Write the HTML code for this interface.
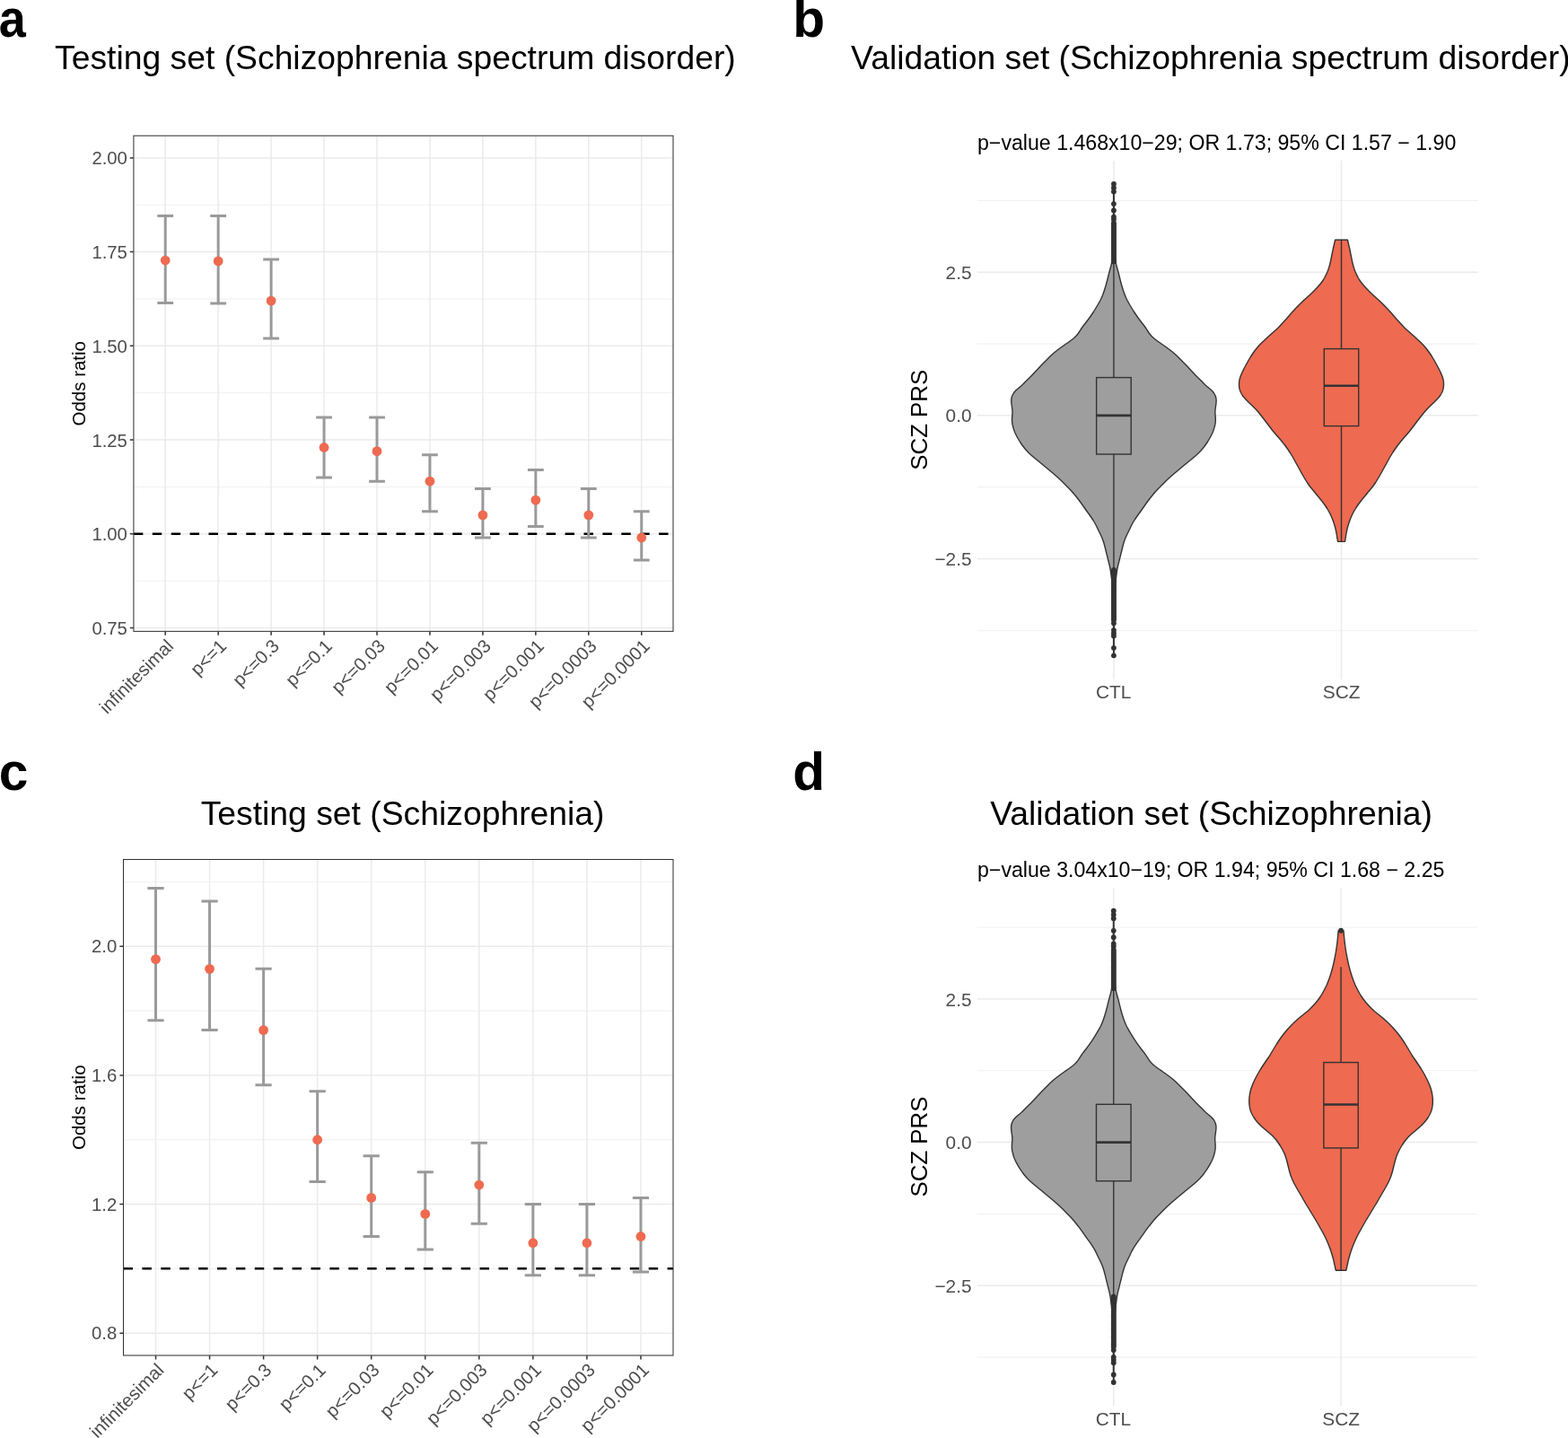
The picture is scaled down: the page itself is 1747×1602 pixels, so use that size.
<!DOCTYPE html>
<html lang="en"><head><meta charset="utf-8"><title>Polygenic risk score figure</title>
<style>html,body{margin:0;padding:0;background:#fff}body{width:1747px;height:1602px;overflow:hidden}svg{display:block;font-family:"Liberation Sans", Arial, Helvetica, sans-serif}text{white-space:pre}</style></head><body>
<svg xmlns="http://www.w3.org/2000/svg" width="1747" height="1602" viewBox="0 0 1747 1602">
<rect width="1747" height="1602" fill="#fff"/>
<g class="panel">
<path d="M148.9 647.16H750M148.9 542.44H750M148.9 437.71H750M148.9 332.99H750M148.9 228.26H750" stroke="#ebebeb" stroke-width="0.75" fill="none"/>
<path d="M148.9 699.52H750M148.9 594.8H750M148.9 490.07H750M148.9 385.35H750M148.9 280.62H750M148.9 175.9H750M184.2 151.2V703.35M243.15 151.2V703.35M302.1 151.2V703.35M361.05 151.2V703.35M420 151.2V703.35M478.95 151.2V703.35M537.9 151.2V703.35M596.85 151.2V703.35M655.8 151.2V703.35M714.75 151.2V703.35" stroke="#ebebeb" stroke-width="1.5" fill="none"/>
<line x1="148.9" y1="594.8" x2="750" y2="594.8" stroke="#000" stroke-width="2.5" stroke-dasharray="10.45 10.45"/>
<path d="M175.3 240.41H193.1M184.2 240.41V337.6M175.3 337.6H193.1M234.25 240.41H252.05M243.15 240.41V338.01M234.25 338.01H252.05M293.2 289H311M302.1 289V376.97M293.2 376.97H311M352.15 464.94H369.95M361.05 464.94V531.97M352.15 531.97H369.95M411.1 464.94H428.9M420 464.94V536.15M411.1 536.15H428.9M470.05 506.83H487.85M478.95 506.83V569.67M470.05 569.67H487.85M529 544.53H546.8M537.9 544.53V598.99M529 598.99H546.8M587.95 523.59H605.75M596.85 523.59V586.42M587.95 586.42H605.75M646.9 544.53H664.7M655.8 544.53V598.99M646.9 598.99H664.7M705.85 569.67H723.65M714.75 569.67V624.12M705.85 624.12H723.65" stroke="#9a9a9a" stroke-width="3" fill="none"/>
<circle cx="184.2" cy="290.05" r="5.4" fill="#ee6a50"/>
<circle cx="243.15" cy="290.89" r="5.4" fill="#ee6a50"/>
<circle cx="302.1" cy="335.08" r="5.4" fill="#ee6a50"/>
<circle cx="361.05" cy="498.45" r="5.4" fill="#ee6a50"/>
<circle cx="420" cy="502.64" r="5.4" fill="#ee6a50"/>
<circle cx="478.95" cy="536.15" r="5.4" fill="#ee6a50"/>
<circle cx="537.9" cy="573.85" r="5.4" fill="#ee6a50"/>
<circle cx="596.85" cy="557.1" r="5.4" fill="#ee6a50"/>
<circle cx="655.8" cy="573.85" r="5.4" fill="#ee6a50"/>
<circle cx="714.75" cy="598.99" r="5.4" fill="#ee6a50"/>
<rect x="148.9" y="151.2" width="601.1" height="552.15" fill="none" stroke="#333333" stroke-width="1.05"/>
<path d="M144.8 699.52H148.6M144.8 594.8H148.6M144.8 490.07H148.6M144.8 385.35H148.6M144.8 280.62H148.6M144.8 175.9H148.6M184.2 703.65V707.75M243.15 703.65V707.75M302.1 703.65V707.75M361.05 703.65V707.75M420 703.65V707.75M478.95 703.65V707.75M537.9 703.65V707.75M596.85 703.65V707.75M655.8 703.65V707.75M714.75 703.65V707.75" stroke="#333333" stroke-width="1.5" fill="none"/>
<text x="141.9" y="707.02" font-size="20.3" fill="#4d4d4d" text-anchor="end">0.75</text>
<text x="141.9" y="602.3" font-size="20.3" fill="#4d4d4d" text-anchor="end">1.00</text>
<text x="141.9" y="497.57" font-size="20.3" fill="#4d4d4d" text-anchor="end">1.25</text>
<text x="141.9" y="392.85" font-size="20.3" fill="#4d4d4d" text-anchor="end">1.50</text>
<text x="141.9" y="288.12" font-size="20.3" fill="#4d4d4d" text-anchor="end">1.75</text>
<text x="141.9" y="183.4" font-size="20.3" fill="#4d4d4d" text-anchor="end">2.00</text>
<text transform="translate(194.5 720.95) rotate(-45)" font-size="20.4" fill="#4d4d4d" text-anchor="end">infinitesimal</text>
<text transform="translate(253.45 720.95) rotate(-45)" font-size="20.4" fill="#4d4d4d" text-anchor="end">p&lt;=1</text>
<text transform="translate(312.4 720.95) rotate(-45)" font-size="20.4" fill="#4d4d4d" text-anchor="end">p&lt;=0.3</text>
<text transform="translate(371.35 720.95) rotate(-45)" font-size="20.4" fill="#4d4d4d" text-anchor="end">p&lt;=0.1</text>
<text transform="translate(430.3 720.95) rotate(-45)" font-size="20.4" fill="#4d4d4d" text-anchor="end">p&lt;=0.03</text>
<text transform="translate(489.25 720.95) rotate(-45)" font-size="20.4" fill="#4d4d4d" text-anchor="end">p&lt;=0.01</text>
<text transform="translate(548.2 720.95) rotate(-45)" font-size="20.4" fill="#4d4d4d" text-anchor="end">p&lt;=0.003</text>
<text transform="translate(607.15 720.95) rotate(-45)" font-size="20.4" fill="#4d4d4d" text-anchor="end">p&lt;=0.001</text>
<text transform="translate(666.1 720.95) rotate(-45)" font-size="20.4" fill="#4d4d4d" text-anchor="end">p&lt;=0.0003</text>
<text transform="translate(725.05 720.95) rotate(-45)" font-size="20.4" fill="#4d4d4d" text-anchor="end">p&lt;=0.0001</text>
<text transform="translate(94.8 427.27) rotate(-90)" font-size="20.5" fill="#000" text-anchor="middle">Odds ratio</text>
</g>
<g class="panel">
<path d="M137.5 1413.45H750M137.5 1269.75H750M137.5 1126.05H750M137.5 982.35H750" stroke="#ebebeb" stroke-width="0.75" fill="none"/>
<path d="M137.5 1485.3H750M137.5 1341.6H750M137.5 1197.9H750M137.5 1054.2H750M173.5 957.5V1510M233.55 957.5V1510M293.6 957.5V1510M353.65 957.5V1510M413.7 957.5V1510M473.75 957.5V1510M533.8 957.5V1510M593.85 957.5V1510M653.9 957.5V1510M713.95 957.5V1510" stroke="#ebebeb" stroke-width="1.5" fill="none"/>
<line x1="137.5" y1="1413.2" x2="750" y2="1413.2" stroke="#000" stroke-width="2.5" stroke-dasharray="10.45 10.45"/>
<path d="M164.4 989.53H182.6M173.5 989.53V1136.83M164.4 1136.83H182.6M224.45 1003.9H242.65M233.55 1003.9V1147.61M224.45 1147.61H242.65M284.5 1079.35H302.7M293.6 1079.35V1208.68M284.5 1208.68H302.7M344.55 1215.86H362.75M353.65 1215.86V1316.45M344.55 1316.45H362.75M404.6 1287.71H422.8M413.7 1287.71V1377.52M404.6 1377.52H422.8M464.65 1305.67H482.85M473.75 1305.67V1391.89M464.65 1391.89H482.85M524.7 1273.34H542.9M533.8 1273.34V1363.15M524.7 1363.15H542.9M584.75 1341.6H602.95M593.85 1341.6V1420.63M584.75 1420.63H602.95M644.8 1341.6H663M653.9 1341.6V1420.63M644.8 1420.63H663M704.85 1334.41H723.05M713.95 1334.41V1417.04M704.85 1417.04H723.05" stroke="#9a9a9a" stroke-width="3" fill="none"/>
<circle cx="173.5" cy="1068.57" r="5.4" fill="#ee6a50"/>
<circle cx="233.55" cy="1079.35" r="5.4" fill="#ee6a50"/>
<circle cx="293.6" cy="1147.61" r="5.4" fill="#ee6a50"/>
<circle cx="353.65" cy="1269.75" r="5.4" fill="#ee6a50"/>
<circle cx="413.7" cy="1334.41" r="5.4" fill="#ee6a50"/>
<circle cx="473.75" cy="1352.38" r="5.4" fill="#ee6a50"/>
<circle cx="533.8" cy="1320.05" r="5.4" fill="#ee6a50"/>
<circle cx="593.85" cy="1384.71" r="5.4" fill="#ee6a50"/>
<circle cx="653.9" cy="1384.71" r="5.4" fill="#ee6a50"/>
<circle cx="713.95" cy="1377.52" r="5.4" fill="#ee6a50"/>
<rect x="137.5" y="957.5" width="612.5" height="552.5" fill="none" stroke="#333333" stroke-width="1.05"/>
<path d="M133.4 1485.3H137.2M133.4 1341.6H137.2M133.4 1197.9H137.2M133.4 1054.2H137.2M173.5 1510.3V1514.4M233.55 1510.3V1514.4M293.6 1510.3V1514.4M353.65 1510.3V1514.4M413.7 1510.3V1514.4M473.75 1510.3V1514.4M533.8 1510.3V1514.4M593.85 1510.3V1514.4M653.9 1510.3V1514.4M713.95 1510.3V1514.4" stroke="#333333" stroke-width="1.5" fill="none"/>
<text x="130.2" y="1492.4" font-size="20.3" fill="#4d4d4d" text-anchor="end">0.8</text>
<text x="130.2" y="1348.7" font-size="20.3" fill="#4d4d4d" text-anchor="end">1.2</text>
<text x="130.2" y="1205" font-size="20.3" fill="#4d4d4d" text-anchor="end">1.6</text>
<text x="130.2" y="1061.3" font-size="20.3" fill="#4d4d4d" text-anchor="end">2.0</text>
<text transform="translate(183.8 1527.6) rotate(-45)" font-size="20.4" fill="#4d4d4d" text-anchor="end">infinitesimal</text>
<text transform="translate(243.85 1527.6) rotate(-45)" font-size="20.4" fill="#4d4d4d" text-anchor="end">p&lt;=1</text>
<text transform="translate(303.9 1527.6) rotate(-45)" font-size="20.4" fill="#4d4d4d" text-anchor="end">p&lt;=0.3</text>
<text transform="translate(363.95 1527.6) rotate(-45)" font-size="20.4" fill="#4d4d4d" text-anchor="end">p&lt;=0.1</text>
<text transform="translate(424 1527.6) rotate(-45)" font-size="20.4" fill="#4d4d4d" text-anchor="end">p&lt;=0.03</text>
<text transform="translate(484.05 1527.6) rotate(-45)" font-size="20.4" fill="#4d4d4d" text-anchor="end">p&lt;=0.01</text>
<text transform="translate(544.1 1527.6) rotate(-45)" font-size="20.4" fill="#4d4d4d" text-anchor="end">p&lt;=0.003</text>
<text transform="translate(604.15 1527.6) rotate(-45)" font-size="20.4" fill="#4d4d4d" text-anchor="end">p&lt;=0.001</text>
<text transform="translate(664.2 1527.6) rotate(-45)" font-size="20.4" fill="#4d4d4d" text-anchor="end">p&lt;=0.0003</text>
<text transform="translate(724.25 1527.6) rotate(-45)" font-size="20.4" fill="#4d4d4d" text-anchor="end">p&lt;=0.0001</text>
<text transform="translate(94.8 1233.75) rotate(-90)" font-size="20.5" fill="#000" text-anchor="middle">Odds ratio</text>
</g>
<g class="panel">
<path d="M1088.7 702.33H1646.8M1088.7 542.68H1646.8M1088.7 383.03H1646.8M1088.7 223.38H1646.8" stroke="#ebebeb" stroke-width="0.75" fill="none"/>
<path d="M1088.7 622.5H1646.8M1088.7 462.85H1646.8M1088.7 303.2H1646.8M1240.92 179V756.8M1494.5 179V756.8" stroke="#ebebeb" stroke-width="1.5" fill="none"/>
<path d="M1240.62 205L1240.62 206L1240.62 207L1240.62 208L1240.62 209L1240.62 210L1240.62 211L1240.62 212L1240.62 213L1240.62 214L1240.61 215L1240.61 216L1240.61 217L1240.61 218L1240.61 219L1240.61 220L1240.61 221L1240.61 222L1240.6 223L1240.6 224L1240.6 225L1240.6 226L1240.6 227L1240.6 228L1240.59 229L1240.59 230L1240.59 231L1240.59 232L1240.59 233L1240.58 234L1240.58 235L1240.58 236L1240.58 237L1240.57 238L1240.57 239L1240.57 240L1240.57 241L1240.56 242L1240.56 243L1240.56 244L1240.55 245L1240.55 246L1240.55 247L1240.54 248L1240.54 249L1240.53 250L1240.53 251L1240.52 252L1240.52 253L1240.51 254L1240.5 255L1240.5 256L1240.49 257L1240.48 258L1240.47 259L1240.47 260L1240.46 261L1240.45 262L1240.44 263L1240.43 264L1240.42 265L1240.41 266L1240.39 267L1240.38 268L1240.36 269L1240.34 270L1240.31 271L1240.29 272L1240.26 273L1240.23 274L1240.2 275L1240.17 276L1240.13 277L1240.1 278L1240.05 279L1240 280L1239.95 281L1239.88 282L1239.81 283L1239.72 284L1239.63 285L1239.53 286L1239.42 287L1239.3 288L1239.17 289L1239.03 290L1238.87 291L1238.71 292L1238.52 293L1238.32 294L1238.1 295L1237.87 296L1237.61 297L1237.34 298L1237.06 299L1236.78 300L1236.49 301L1236.21 302L1235.94 303L1235.68 304L1235.42 305L1235.17 306L1234.92 307L1234.68 308L1234.44 309L1234.19 310L1233.94 311L1233.69 312L1233.44 313L1233.18 314L1232.91 315L1232.64 316L1232.36 317L1232.07 318L1231.78 319L1231.49 320L1231.19 321L1230.88 322L1230.56 323L1230.23 324L1229.89 325L1229.54 326L1229.18 327L1228.8 328L1228.4 329L1227.99 330L1227.56 331L1227.12 332L1226.66 333L1226.17 334L1225.67 335L1225.14 336L1224.59 337L1224.02 338L1223.44 339L1222.86 340L1222.27 341L1221.67 342L1221.07 343L1220.46 344L1219.84 345L1219.22 346L1218.59 347L1217.94 348L1217.29 349L1216.63 350L1215.95 351L1215.26 352L1214.56 353L1213.85 354L1213.12 355L1212.38 356L1211.63 357L1210.87 358L1210.1 359L1209.31 360L1208.52 361L1207.73 362L1206.96 363L1206.23 364L1205.53 365L1204.86 366L1204.21 367L1203.58 368L1202.93 369L1202.26 370L1201.57 371L1200.83 372L1200.03 373L1199.16 374L1198.21 375L1197.16 376L1196.02 377L1194.79 378L1193.5 379L1192.16 380L1190.76 381L1189.33 382L1187.89 383L1186.44 384L1185.01 385L1183.6 386L1182.2 387L1180.83 388L1179.49 389L1178.17 390L1176.88 391L1175.63 392L1174.42 393L1173.25 394L1172.13 395L1171.04 396L1170 397L1168.99 398L1168 399L1167.02 400L1166.04 401L1165.05 402L1164.04 403L1163.02 404L1162.01 405L1161.02 406L1160.06 407L1159.12 408L1158.21 409L1157.29 410L1156.37 411L1155.44 412L1154.51 413L1153.57 414L1152.63 415L1151.69 416L1150.75 417L1149.8 418L1148.84 419L1147.84 420L1146.83 421L1145.79 422L1144.75 423L1143.72 424L1142.71 425L1141.73 426L1140.77 427L1139.79 428L1138.76 429L1137.67 430L1136.5 431L1135.28 432L1134.06 433L1132.89 434L1131.82 435L1130.87 436L1130.04 437L1129.32 438L1128.7 439L1128.18 440L1127.74 441L1127.38 442L1127.1 443L1126.9 444L1126.78 445L1126.74 446L1126.74 447L1126.79 448L1126.87 449L1126.97 450L1127.1 451L1127.24 452L1127.39 453L1127.54 454L1127.68 455L1127.8 456L1127.9 457L1127.97 458L1128 459L1128 460L1127.95 461L1127.86 462L1127.77 463L1127.67 464L1127.6 465L1127.56 466L1127.54 467L1127.54 468L1127.57 469L1127.62 470L1127.72 471L1127.87 472L1128.06 473L1128.29 474L1128.54 475L1128.81 476L1129.09 477L1129.4 478L1129.73 479L1130.08 480L1130.46 481L1130.87 482L1131.31 483L1131.78 484L1132.27 485L1132.78 486L1133.32 487L1133.88 488L1134.45 489L1135.05 490L1135.65 491L1136.28 492L1136.92 493L1137.58 494L1138.27 495L1138.98 496L1139.71 497L1140.47 498L1141.26 499L1142.08 500L1142.94 501L1143.82 502L1144.75 503L1145.71 504L1146.72 505L1147.77 506L1148.87 507L1150 508L1151.17 509L1152.36 510L1153.57 511L1154.79 512L1156.03 513L1157.26 514L1158.49 515L1159.71 516L1160.92 517L1162.12 518L1163.32 519L1164.52 520L1165.72 521L1166.92 522L1168.12 523L1169.32 524L1170.52 525L1171.71 526L1172.89 527L1174.07 528L1175.23 529L1176.39 530L1177.52 531L1178.64 532L1179.74 533L1180.82 534L1181.87 535L1182.91 536L1183.93 537L1184.93 538L1185.92 539L1186.91 540L1187.89 541L1188.88 542L1189.87 543L1190.86 544L1191.84 545L1192.81 546L1193.74 547L1194.64 548L1195.52 549L1196.38 550L1197.21 551L1198.03 552L1198.84 553L1199.63 554L1200.41 555L1201.18 556L1201.95 557L1202.71 558L1203.46 559L1204.19 560L1204.91 561L1205.62 562L1206.33 563L1207.02 564L1207.72 565L1208.42 566L1209.12 567L1209.82 568L1210.53 569L1211.25 570L1211.98 571L1212.71 572L1213.44 573L1214.17 574L1214.88 575L1215.58 576L1216.25 577L1216.92 578L1217.56 579L1218.19 580L1218.81 581L1219.4 582L1219.98 583L1220.53 584L1221.06 585L1221.56 586L1222.04 587L1222.51 588L1222.98 589L1223.45 590L1223.93 591L1224.43 592L1224.92 593L1225.41 594L1225.91 595L1226.39 596L1226.86 597L1227.32 598L1227.75 599L1228.16 600L1228.55 601L1228.92 602L1229.26 603L1229.58 604L1229.89 605L1230.17 606L1230.45 607L1230.71 608L1230.96 609L1231.21 610L1231.46 611L1231.7 612L1231.94 613L1232.19 614L1232.43 615L1232.69 616L1232.94 617L1233.2 618L1233.45 619L1233.71 620L1233.95 621L1234.2 622L1234.44 623L1234.69 624L1234.94 625L1235.19 626L1235.45 627L1235.7 628L1235.95 629L1236.19 630L1236.42 631L1236.63 632L1236.83 633L1237.02 634L1237.19 635L1237.34 636L1237.49 637L1237.62 638L1237.75 639L1237.88 640L1238 641L1238.13 642L1238.25 643L1238.38 644L1238.51 645L1238.64 646L1238.77 647L1238.89 648L1239 649L1239.11 650L1239.21 651L1239.31 652L1239.4 653L1239.5 654L1239.58 655L1239.66 656L1239.73 657L1239.8 658L1239.86 659L1239.91 660L1239.95 661L1239.99 662L1240.03 663L1240.07 664L1240.1 665L1240.13 666L1240.17 667L1240.19 668L1240.22 669L1240.25 670L1240.27 671L1240.3 672L1240.32 673L1240.34 674L1240.35 675L1240.37 676L1240.38 677L1240.4 678L1240.41 679L1240.42 680L1240.43 681L1240.43 682L1240.44 683L1240.45 684L1240.46 685L1240.46 686L1240.47 687L1240.48 688L1240.48 689L1240.49 690L1240.5 691L1240.5 692L1240.51 693L1240.51 694L1240.52 695L1240.52 696L1240.53 697L1240.54 698L1240.54 699L1240.55 700L1240.55 701L1240.55 702L1240.56 703L1240.56 704L1240.57 705L1240.57 706L1240.58 707L1240.58 708L1240.58 709L1240.59 710L1240.59 711L1240.59 712L1240.59 713L1240.6 714L1240.6 715L1240.6 716L1240.6 717L1240.61 718L1240.61 719L1240.61 720L1240.61 721L1240.61 722L1240.62 723L1240.62 724L1240.62 725L1240.62 726L1240.62 727L1240.62 728L1240.62 729L1240.62 730L1240.62 730.3L1241.22 730.3L1241.22 730L1241.22 729L1241.22 728L1241.22 727L1241.22 726L1241.22 725L1241.22 724L1241.22 723L1241.23 722L1241.23 721L1241.23 720L1241.23 719L1241.23 718L1241.24 717L1241.24 716L1241.24 715L1241.24 714L1241.25 713L1241.25 712L1241.25 711L1241.25 710L1241.26 709L1241.26 708L1241.26 707L1241.27 706L1241.27 705L1241.28 704L1241.28 703L1241.29 702L1241.29 701L1241.29 700L1241.3 699L1241.3 698L1241.31 697L1241.32 696L1241.32 695L1241.33 694L1241.33 693L1241.34 692L1241.34 691L1241.35 690L1241.36 689L1241.36 688L1241.37 687L1241.38 686L1241.38 685L1241.39 684L1241.4 683L1241.41 682L1241.41 681L1241.42 680L1241.43 679L1241.44 678L1241.46 677L1241.47 676L1241.49 675L1241.5 674L1241.52 673L1241.54 672L1241.57 671L1241.59 670L1241.62 669L1241.65 668L1241.67 667L1241.71 666L1241.74 665L1241.77 664L1241.81 663L1241.85 662L1241.89 661L1241.93 660L1241.98 659L1242.04 658L1242.11 657L1242.18 656L1242.26 655L1242.34 654L1242.44 653L1242.53 652L1242.63 651L1242.73 650L1242.84 649L1242.95 648L1243.07 647L1243.2 646L1243.33 645L1243.46 644L1243.59 643L1243.71 642L1243.84 641L1243.96 640L1244.09 639L1244.22 638L1244.35 637L1244.5 636L1244.65 635L1244.82 634L1245.01 633L1245.21 632L1245.42 631L1245.65 630L1245.89 629L1246.14 628L1246.39 627L1246.65 626L1246.9 625L1247.15 624L1247.4 623L1247.64 622L1247.89 621L1248.13 620L1248.39 619L1248.64 618L1248.9 617L1249.15 616L1249.41 615L1249.65 614L1249.9 613L1250.14 612L1250.38 611L1250.63 610L1250.88 609L1251.13 608L1251.39 607L1251.67 606L1251.95 605L1252.26 604L1252.58 603L1252.92 602L1253.29 601L1253.68 600L1254.09 599L1254.52 598L1254.98 597L1255.45 596L1255.93 595L1256.43 594L1256.92 593L1257.41 592L1257.91 591L1258.39 590L1258.86 589L1259.33 588L1259.8 587L1260.28 586L1260.78 585L1261.31 584L1261.86 583L1262.44 582L1263.03 581L1263.65 580L1264.28 579L1264.92 578L1265.59 577L1266.26 576L1266.96 575L1267.67 574L1268.4 573L1269.13 572L1269.86 571L1270.59 570L1271.31 569L1272.02 568L1272.72 567L1273.42 566L1274.12 565L1274.82 564L1275.51 563L1276.22 562L1276.93 561L1277.65 560L1278.38 559L1279.13 558L1279.89 557L1280.66 556L1281.43 555L1282.21 554L1283 553L1283.81 552L1284.63 551L1285.46 550L1286.32 549L1287.2 548L1288.1 547L1289.03 546L1290 545L1290.98 544L1291.97 543L1292.96 542L1293.95 541L1294.93 540L1295.92 539L1296.91 538L1297.91 537L1298.93 536L1299.97 535L1301.02 534L1302.1 533L1303.2 532L1304.32 531L1305.45 530L1306.61 529L1307.77 528L1308.95 527L1310.13 526L1311.32 525L1312.52 524L1313.72 523L1314.92 522L1316.12 521L1317.32 520L1318.52 519L1319.72 518L1320.92 517L1322.13 516L1323.35 515L1324.58 514L1325.81 513L1327.05 512L1328.27 511L1329.48 510L1330.67 509L1331.84 508L1332.97 507L1334.07 506L1335.12 505L1336.13 504L1337.09 503L1338.02 502L1338.9 501L1339.76 500L1340.58 499L1341.37 498L1342.13 497L1342.86 496L1343.57 495L1344.26 494L1344.92 493L1345.56 492L1346.19 491L1346.79 490L1347.39 489L1347.96 488L1348.52 487L1349.06 486L1349.57 485L1350.06 484L1350.53 483L1350.97 482L1351.38 481L1351.76 480L1352.11 479L1352.44 478L1352.75 477L1353.03 476L1353.3 475L1353.55 474L1353.78 473L1353.97 472L1354.12 471L1354.22 470L1354.27 469L1354.3 468L1354.3 467L1354.28 466L1354.24 465L1354.17 464L1354.07 463L1353.98 462L1353.89 461L1353.84 460L1353.84 459L1353.87 458L1353.94 457L1354.04 456L1354.16 455L1354.3 454L1354.45 453L1354.6 452L1354.74 451L1354.87 450L1354.97 449L1355.05 448L1355.1 447L1355.1 446L1355.06 445L1354.94 444L1354.74 443L1354.46 442L1354.1 441L1353.66 440L1353.14 439L1352.52 438L1351.8 437L1350.97 436L1350.02 435L1348.95 434L1347.78 433L1346.56 432L1345.34 431L1344.17 430L1343.08 429L1342.05 428L1341.07 427L1340.11 426L1339.13 425L1338.12 424L1337.09 423L1336.05 422L1335.01 421L1334 420L1333 419L1332.04 418L1331.09 417L1330.15 416L1329.21 415L1328.27 414L1327.33 413L1326.4 412L1325.47 411L1324.55 410L1323.63 409L1322.72 408L1321.78 407L1320.82 406L1319.83 405L1318.82 404L1317.8 403L1316.79 402L1315.8 401L1314.82 400L1313.84 399L1312.85 398L1311.84 397L1310.8 396L1309.71 395L1308.59 394L1307.42 393L1306.21 392L1304.96 391L1303.67 390L1302.35 389L1301.01 388L1299.64 387L1298.24 386L1296.83 385L1295.4 384L1293.95 383L1292.51 382L1291.08 381L1289.68 380L1288.34 379L1287.05 378L1285.82 377L1284.68 376L1283.63 375L1282.68 374L1281.81 373L1281.01 372L1280.27 371L1279.58 370L1278.91 369L1278.26 368L1277.63 367L1276.98 366L1276.31 365L1275.61 364L1274.88 363L1274.11 362L1273.32 361L1272.53 360L1271.74 359L1270.97 358L1270.21 357L1269.46 356L1268.72 355L1267.99 354L1267.28 353L1266.58 352L1265.89 351L1265.21 350L1264.55 349L1263.9 348L1263.25 347L1262.62 346L1262 345L1261.38 344L1260.77 343L1260.17 342L1259.57 341L1258.98 340L1258.4 339L1257.82 338L1257.25 337L1256.7 336L1256.17 335L1255.67 334L1255.18 333L1254.72 332L1254.28 331L1253.85 330L1253.44 329L1253.04 328L1252.66 327L1252.3 326L1251.95 325L1251.61 324L1251.28 323L1250.96 322L1250.65 321L1250.35 320L1250.06 319L1249.77 318L1249.48 317L1249.2 316L1248.93 315L1248.66 314L1248.4 313L1248.15 312L1247.9 311L1247.65 310L1247.4 309L1247.16 308L1246.92 307L1246.67 306L1246.42 305L1246.16 304L1245.9 303L1245.63 302L1245.35 301L1245.06 300L1244.78 299L1244.5 298L1244.23 297L1243.97 296L1243.74 295L1243.52 294L1243.32 293L1243.13 292L1242.97 291L1242.81 290L1242.67 289L1242.54 288L1242.42 287L1242.31 286L1242.21 285L1242.12 284L1242.03 283L1241.96 282L1241.89 281L1241.84 280L1241.79 279L1241.74 278L1241.71 277L1241.67 276L1241.64 275L1241.61 274L1241.58 273L1241.55 272L1241.53 271L1241.5 270L1241.48 269L1241.46 268L1241.45 267L1241.43 266L1241.42 265L1241.41 264L1241.4 263L1241.39 262L1241.38 261L1241.37 260L1241.37 259L1241.36 258L1241.35 257L1241.34 256L1241.34 255L1241.33 254L1241.32 253L1241.32 252L1241.31 251L1241.31 250L1241.3 249L1241.3 248L1241.29 247L1241.29 246L1241.29 245L1241.28 244L1241.28 243L1241.28 242L1241.27 241L1241.27 240L1241.27 239L1241.27 238L1241.26 237L1241.26 236L1241.26 235L1241.26 234L1241.25 233L1241.25 232L1241.25 231L1241.25 230L1241.25 229L1241.24 228L1241.24 227L1241.24 226L1241.24 225L1241.24 224L1241.24 223L1241.23 222L1241.23 221L1241.23 220L1241.23 219L1241.23 218L1241.23 217L1241.23 216L1241.23 215L1241.22 214L1241.22 213L1241.22 212L1241.22 211L1241.22 210L1241.22 209L1241.22 208L1241.22 207L1241.22 206L1241.22 205Z" fill="#9e9e9e" stroke="#333333" stroke-width="1.4" stroke-linejoin="round"/>
<path d="M1487.6 267.25L1487.35 268.25L1487.12 269.25L1486.89 270.25L1486.67 271.25L1486.43 272.25L1486.19 273.25L1485.96 274.25L1485.72 275.25L1485.49 276.25L1485.27 277.25L1485.05 278.25L1484.85 279.25L1484.65 280.25L1484.45 281.25L1484.25 282.25L1484.05 283.25L1483.85 284.25L1483.65 285.25L1483.45 286.25L1483.25 287.25L1483.06 288.25L1482.86 289.25L1482.65 290.25L1482.44 291.25L1482.22 292.25L1481.98 293.25L1481.73 294.25L1481.47 295.25L1481.19 296.25L1480.89 297.25L1480.58 298.25L1480.26 299.25L1479.91 300.25L1479.54 301.25L1479.15 302.25L1478.73 303.25L1478.29 304.25L1477.83 305.25L1477.35 306.25L1476.85 307.25L1476.34 308.25L1475.82 309.25L1475.26 310.25L1474.67 311.25L1474.03 312.25L1473.35 313.25L1472.63 314.25L1471.87 315.25L1471.07 316.25L1470.24 317.25L1469.38 318.25L1468.5 319.25L1467.6 320.25L1466.67 321.25L1465.72 322.25L1464.76 323.25L1463.77 324.25L1462.77 325.25L1461.74 326.25L1460.69 327.25L1459.62 328.25L1458.54 329.25L1457.44 330.25L1456.33 331.25L1455.21 332.25L1454.09 333.25L1452.98 334.25L1451.89 335.25L1450.83 336.25L1449.79 337.25L1448.77 338.25L1447.76 339.25L1446.77 340.25L1445.8 341.25L1444.83 342.25L1443.87 343.25L1442.93 344.25L1441.99 345.25L1441.07 346.25L1440.16 347.25L1439.27 348.25L1438.39 349.25L1437.52 350.25L1436.66 351.25L1435.82 352.25L1434.96 353.25L1434.1 354.25L1433.22 355.25L1432.31 356.25L1431.39 357.25L1430.46 358.25L1429.53 359.25L1428.61 360.25L1427.7 361.25L1426.8 362.25L1425.87 363.25L1424.92 364.25L1423.93 365.25L1422.89 366.25L1421.8 367.25L1420.69 368.25L1419.56 369.25L1418.41 370.25L1417.27 371.25L1416.13 372.25L1415 373.25L1413.88 374.25L1412.79 375.25L1411.72 376.25L1410.66 377.25L1409.6 378.25L1408.54 379.25L1407.47 380.25L1406.39 381.25L1405.34 382.25L1404.32 383.25L1403.36 384.25L1402.45 385.25L1401.58 386.25L1400.74 387.25L1399.92 388.25L1399.13 389.25L1398.37 390.25L1397.63 391.25L1396.91 392.25L1396.21 393.25L1395.52 394.25L1394.85 395.25L1394.19 396.25L1393.54 397.25L1392.91 398.25L1392.3 399.25L1391.71 400.25L1391.13 401.25L1390.58 402.25L1390.03 403.25L1389.49 404.25L1388.94 405.25L1388.39 406.25L1387.83 407.25L1387.28 408.25L1386.74 409.25L1386.21 410.25L1385.7 411.25L1385.21 412.25L1384.72 413.25L1384.26 414.25L1383.8 415.25L1383.35 416.25L1382.92 417.25L1382.51 418.25L1382.13 419.25L1381.79 420.25L1381.48 421.25L1381.21 422.25L1380.98 423.25L1380.8 424.25L1380.66 425.25L1380.56 426.25L1380.51 427.25L1380.49 428.25L1380.52 429.25L1380.58 430.25L1380.7 431.25L1380.85 432.25L1381.06 433.25L1381.32 434.25L1381.64 435.25L1382.01 436.25L1382.45 437.25L1382.94 438.25L1383.51 439.25L1384.14 440.25L1384.84 441.25L1385.62 442.25L1386.46 443.25L1387.35 444.25L1388.28 445.25L1389.25 446.25L1390.24 447.25L1391.25 448.25L1392.28 449.25L1393.33 450.25L1394.38 451.25L1395.43 452.25L1396.47 453.25L1397.49 454.25L1398.48 455.25L1399.43 456.25L1400.34 457.25L1401.23 458.25L1402.07 459.25L1402.9 460.25L1403.7 461.25L1404.49 462.25L1405.27 463.25L1406.05 464.25L1406.83 465.25L1407.61 466.25L1408.39 467.25L1409.17 468.25L1409.94 469.25L1410.71 470.25L1411.48 471.25L1412.23 472.25L1412.98 473.25L1413.72 474.25L1414.47 475.25L1415.21 476.25L1415.97 477.25L1416.74 478.25L1417.53 479.25L1418.34 480.25L1419.17 481.25L1420.02 482.25L1420.88 483.25L1421.75 484.25L1422.63 485.25L1423.51 486.25L1424.39 487.25L1425.26 488.25L1426.12 489.25L1426.97 490.25L1427.8 491.25L1428.61 492.25L1429.41 493.25L1430.2 494.25L1430.97 495.25L1431.73 496.25L1432.48 497.25L1433.22 498.25L1433.94 499.25L1434.64 500.25L1435.33 501.25L1436 502.25L1436.66 503.25L1437.3 504.25L1437.93 505.25L1438.55 506.25L1439.16 507.25L1439.76 508.25L1440.34 509.25L1440.91 510.25L1441.47 511.25L1442.02 512.25L1442.56 513.25L1443.11 514.25L1443.65 515.25L1444.21 516.25L1444.76 517.25L1445.32 518.25L1445.87 519.25L1446.42 520.25L1446.97 521.25L1447.51 522.25L1448.06 523.25L1448.6 524.25L1449.15 525.25L1449.7 526.25L1450.25 527.25L1450.82 528.25L1451.39 529.25L1451.96 530.25L1452.55 531.25L1453.14 532.25L1453.74 533.25L1454.35 534.25L1454.97 535.25L1455.59 536.25L1456.22 537.25L1456.87 538.25L1457.54 539.25L1458.24 540.25L1458.97 541.25L1459.73 542.25L1460.53 543.25L1461.35 544.25L1462.19 545.25L1463.02 546.25L1463.85 547.25L1464.67 548.25L1465.49 549.25L1466.31 550.25L1467.13 551.25L1467.95 552.25L1468.77 553.25L1469.59 554.25L1470.4 555.25L1471.21 556.25L1472.02 557.25L1472.81 558.25L1473.58 559.25L1474.34 560.25L1475.08 561.25L1475.8 562.25L1476.49 563.25L1477.17 564.25L1477.82 565.25L1478.46 566.25L1479.07 567.25L1479.67 568.25L1480.24 569.25L1480.8 570.25L1481.33 571.25L1481.85 572.25L1482.34 573.25L1482.82 574.25L1483.27 575.25L1483.7 576.25L1484.12 577.25L1484.51 578.25L1484.9 579.25L1485.27 580.25L1485.63 581.25L1485.98 582.25L1486.32 583.25L1486.64 584.25L1486.94 585.25L1487.23 586.25L1487.5 587.25L1487.76 588.25L1488 589.25L1488.23 590.25L1488.45 591.25L1488.66 592.25L1488.86 593.25L1489.04 594.25L1489.21 595.25L1489.37 596.25L1489.51 597.25L1489.66 598.25L1489.81 599.25L1489.96 600.25L1490.1 601.25L1490.27 602.25L1490.46 603.25L1490.5 603.35L1498.5 603.35L1498.54 603.25L1498.73 602.25L1498.9 601.25L1499.04 600.25L1499.19 599.25L1499.34 598.25L1499.49 597.25L1499.63 596.25L1499.79 595.25L1499.96 594.25L1500.14 593.25L1500.34 592.25L1500.55 591.25L1500.77 590.25L1501 589.25L1501.24 588.25L1501.5 587.25L1501.77 586.25L1502.06 585.25L1502.36 584.25L1502.68 583.25L1503.02 582.25L1503.37 581.25L1503.73 580.25L1504.1 579.25L1504.49 578.25L1504.88 577.25L1505.3 576.25L1505.73 575.25L1506.18 574.25L1506.66 573.25L1507.15 572.25L1507.67 571.25L1508.2 570.25L1508.76 569.25L1509.33 568.25L1509.93 567.25L1510.54 566.25L1511.18 565.25L1511.83 564.25L1512.51 563.25L1513.2 562.25L1513.92 561.25L1514.66 560.25L1515.42 559.25L1516.19 558.25L1516.98 557.25L1517.79 556.25L1518.6 555.25L1519.41 554.25L1520.23 553.25L1521.05 552.25L1521.87 551.25L1522.69 550.25L1523.51 549.25L1524.33 548.25L1525.15 547.25L1525.98 546.25L1526.81 545.25L1527.65 544.25L1528.47 543.25L1529.27 542.25L1530.03 541.25L1530.76 540.25L1531.46 539.25L1532.13 538.25L1532.78 537.25L1533.41 536.25L1534.03 535.25L1534.65 534.25L1535.26 533.25L1535.86 532.25L1536.45 531.25L1537.04 530.25L1537.61 529.25L1538.18 528.25L1538.75 527.25L1539.3 526.25L1539.85 525.25L1540.4 524.25L1540.94 523.25L1541.49 522.25L1542.03 521.25L1542.58 520.25L1543.13 519.25L1543.68 518.25L1544.24 517.25L1544.79 516.25L1545.35 515.25L1545.89 514.25L1546.44 513.25L1546.98 512.25L1547.53 511.25L1548.09 510.25L1548.66 509.25L1549.24 508.25L1549.84 507.25L1550.45 506.25L1551.07 505.25L1551.7 504.25L1552.34 503.25L1553 502.25L1553.67 501.25L1554.36 500.25L1555.06 499.25L1555.78 498.25L1556.52 497.25L1557.27 496.25L1558.03 495.25L1558.8 494.25L1559.59 493.25L1560.39 492.25L1561.2 491.25L1562.03 490.25L1562.88 489.25L1563.74 488.25L1564.61 487.25L1565.49 486.25L1566.37 485.25L1567.25 484.25L1568.12 483.25L1568.98 482.25L1569.83 481.25L1570.66 480.25L1571.47 479.25L1572.26 478.25L1573.03 477.25L1573.79 476.25L1574.53 475.25L1575.28 474.25L1576.02 473.25L1576.77 472.25L1577.52 471.25L1578.29 470.25L1579.06 469.25L1579.83 468.25L1580.61 467.25L1581.39 466.25L1582.17 465.25L1582.95 464.25L1583.73 463.25L1584.51 462.25L1585.3 461.25L1586.1 460.25L1586.93 459.25L1587.77 458.25L1588.66 457.25L1589.57 456.25L1590.52 455.25L1591.51 454.25L1592.53 453.25L1593.57 452.25L1594.62 451.25L1595.67 450.25L1596.72 449.25L1597.75 448.25L1598.76 447.25L1599.75 446.25L1600.72 445.25L1601.65 444.25L1602.54 443.25L1603.38 442.25L1604.16 441.25L1604.86 440.25L1605.49 439.25L1606.06 438.25L1606.55 437.25L1606.99 436.25L1607.36 435.25L1607.68 434.25L1607.94 433.25L1608.15 432.25L1608.3 431.25L1608.42 430.25L1608.48 429.25L1608.51 428.25L1608.49 427.25L1608.44 426.25L1608.34 425.25L1608.2 424.25L1608.02 423.25L1607.79 422.25L1607.52 421.25L1607.21 420.25L1606.87 419.25L1606.49 418.25L1606.08 417.25L1605.65 416.25L1605.2 415.25L1604.74 414.25L1604.28 413.25L1603.79 412.25L1603.3 411.25L1602.79 410.25L1602.26 409.25L1601.72 408.25L1601.17 407.25L1600.61 406.25L1600.06 405.25L1599.51 404.25L1598.97 403.25L1598.42 402.25L1597.87 401.25L1597.29 400.25L1596.7 399.25L1596.09 398.25L1595.46 397.25L1594.81 396.25L1594.15 395.25L1593.48 394.25L1592.79 393.25L1592.09 392.25L1591.37 391.25L1590.63 390.25L1589.87 389.25L1589.08 388.25L1588.26 387.25L1587.42 386.25L1586.55 385.25L1585.64 384.25L1584.68 383.25L1583.66 382.25L1582.61 381.25L1581.53 380.25L1580.46 379.25L1579.4 378.25L1578.34 377.25L1577.28 376.25L1576.21 375.25L1575.12 374.25L1574 373.25L1572.87 372.25L1571.73 371.25L1570.59 370.25L1569.44 369.25L1568.31 368.25L1567.2 367.25L1566.11 366.25L1565.07 365.25L1564.08 364.25L1563.13 363.25L1562.2 362.25L1561.3 361.25L1560.39 360.25L1559.47 359.25L1558.54 358.25L1557.61 357.25L1556.69 356.25L1555.78 355.25L1554.9 354.25L1554.04 353.25L1553.18 352.25L1552.34 351.25L1551.48 350.25L1550.61 349.25L1549.73 348.25L1548.84 347.25L1547.93 346.25L1547.01 345.25L1546.07 344.25L1545.13 343.25L1544.17 342.25L1543.2 341.25L1542.23 340.25L1541.24 339.25L1540.23 338.25L1539.21 337.25L1538.17 336.25L1537.11 335.25L1536.02 334.25L1534.91 333.25L1533.79 332.25L1532.67 331.25L1531.56 330.25L1530.46 329.25L1529.38 328.25L1528.31 327.25L1527.26 326.25L1526.23 325.25L1525.23 324.25L1524.24 323.25L1523.28 322.25L1522.33 321.25L1521.4 320.25L1520.5 319.25L1519.62 318.25L1518.76 317.25L1517.93 316.25L1517.13 315.25L1516.37 314.25L1515.65 313.25L1514.97 312.25L1514.33 311.25L1513.74 310.25L1513.18 309.25L1512.66 308.25L1512.15 307.25L1511.65 306.25L1511.17 305.25L1510.71 304.25L1510.27 303.25L1509.85 302.25L1509.46 301.25L1509.09 300.25L1508.74 299.25L1508.42 298.25L1508.11 297.25L1507.81 296.25L1507.53 295.25L1507.27 294.25L1507.02 293.25L1506.78 292.25L1506.56 291.25L1506.35 290.25L1506.14 289.25L1505.94 288.25L1505.75 287.25L1505.55 286.25L1505.35 285.25L1505.15 284.25L1504.95 283.25L1504.75 282.25L1504.55 281.25L1504.35 280.25L1504.15 279.25L1503.95 278.25L1503.73 277.25L1503.51 276.25L1503.28 275.25L1503.04 274.25L1502.81 273.25L1502.57 272.25L1502.33 271.25L1502.11 270.25L1501.88 269.25L1501.65 268.25L1501.4 267.25Z" fill="#ee6a50" stroke="#333333" stroke-width="1.4" stroke-linejoin="round"/>
<g fill="#333333"><circle cx="1240.92" cy="205" r="2.9"/><circle cx="1240.92" cy="209.2" r="2.9"/><circle cx="1240.92" cy="213.5" r="2.9"/><circle cx="1240.92" cy="227.1" r="2.9"/><circle cx="1240.92" cy="234.5" r="2.9"/><circle cx="1240.92" cy="241.7" r="2.9"/><circle cx="1240.92" cy="244.6" r="2.9"/><circle cx="1240.92" cy="248.3" r="2.9"/><circle cx="1240.92" cy="249.9" r="2.9"/><circle cx="1240.92" cy="251.5" r="2.9"/><circle cx="1240.92" cy="253.1" r="2.9"/><circle cx="1240.92" cy="254.7" r="2.9"/><circle cx="1240.92" cy="256.3" r="2.9"/><circle cx="1240.92" cy="257.9" r="2.9"/><circle cx="1240.92" cy="259.5" r="2.9"/><circle cx="1240.92" cy="261.1" r="2.9"/><circle cx="1240.92" cy="262.7" r="2.9"/><circle cx="1240.92" cy="264.3" r="2.9"/><circle cx="1240.92" cy="265.9" r="2.9"/><circle cx="1240.92" cy="267.5" r="2.9"/><circle cx="1240.92" cy="269.1" r="2.9"/><circle cx="1240.92" cy="270.7" r="2.9"/><circle cx="1240.92" cy="272.3" r="2.9"/><circle cx="1240.92" cy="273.9" r="2.9"/><circle cx="1240.92" cy="275.5" r="2.9"/><circle cx="1240.92" cy="277.1" r="2.9"/><circle cx="1240.92" cy="278.7" r="2.9"/><circle cx="1240.92" cy="280.3" r="2.9"/><circle cx="1240.92" cy="281.9" r="2.9"/><circle cx="1240.92" cy="283.5" r="2.9"/><circle cx="1240.92" cy="285.1" r="2.9"/><circle cx="1240.92" cy="286.7" r="2.9"/><circle cx="1240.92" cy="288.3" r="2.9"/><circle cx="1240.92" cy="289.9" r="2.9"/><circle cx="1240.92" cy="291.5" r="2.9"/><circle cx="1240.92" cy="634.8" r="2.9"/><circle cx="1240.92" cy="636.4" r="2.9"/><circle cx="1240.92" cy="638" r="2.9"/><circle cx="1240.92" cy="639.6" r="2.9"/><circle cx="1240.92" cy="641.2" r="2.9"/><circle cx="1240.92" cy="642.8" r="2.9"/><circle cx="1240.92" cy="644.4" r="2.9"/><circle cx="1240.92" cy="646" r="2.9"/><circle cx="1240.92" cy="647.6" r="2.9"/><circle cx="1240.92" cy="649.2" r="2.9"/><circle cx="1240.92" cy="650.8" r="2.9"/><circle cx="1240.92" cy="652.4" r="2.9"/><circle cx="1240.92" cy="654" r="2.9"/><circle cx="1240.92" cy="655.6" r="2.9"/><circle cx="1240.92" cy="657.2" r="2.9"/><circle cx="1240.92" cy="658.8" r="2.9"/><circle cx="1240.92" cy="660.4" r="2.9"/><circle cx="1240.92" cy="662" r="2.9"/><circle cx="1240.92" cy="663.6" r="2.9"/><circle cx="1240.92" cy="665.2" r="2.9"/><circle cx="1240.92" cy="666.8" r="2.9"/><circle cx="1240.92" cy="668.4" r="2.9"/><circle cx="1240.92" cy="670" r="2.9"/><circle cx="1240.92" cy="671.6" r="2.9"/><circle cx="1240.92" cy="673.2" r="2.9"/><circle cx="1240.92" cy="674.8" r="2.9"/><circle cx="1240.92" cy="676.4" r="2.9"/><circle cx="1240.92" cy="678" r="2.9"/><circle cx="1240.92" cy="679.6" r="2.9"/><circle cx="1240.92" cy="681.2" r="2.9"/><circle cx="1240.92" cy="682.8" r="2.9"/><circle cx="1240.92" cy="684.4" r="2.9"/><circle cx="1240.92" cy="686" r="2.9"/><circle cx="1240.92" cy="687.6" r="2.9"/><circle cx="1240.92" cy="689.2" r="2.9"/><circle cx="1240.92" cy="690.8" r="2.9"/><circle cx="1240.92" cy="694.3" r="2.9"/><circle cx="1240.92" cy="702.1" r="2.9"/><circle cx="1240.92" cy="705.3" r="2.9"/><circle cx="1240.92" cy="708.5" r="2.9"/><circle cx="1240.92" cy="721.8" r="2.9"/><circle cx="1240.92" cy="730.3" r="2.9"/></g>
<path d="M1240.92 290.5V420.6M1240.92 506V635" stroke="#333333" stroke-width="1.4" fill="none"/>
<rect x="1221.62" y="420.6" width="38.6" height="85.4" fill="#9e9e9e" stroke="#333333" stroke-width="1.4"/>
<line x1="1221.62" y1="462.9" x2="1260.22" y2="462.9" stroke="#333333" stroke-width="2.6"/>
<path d="M1494.5 267.3V388.6M1494.5 474.6V603.3" stroke="#333333" stroke-width="1.4" fill="none"/>
<rect x="1475.3" y="388.6" width="38.4" height="86" fill="#ee6a50" stroke="#333333" stroke-width="1.4"/>
<line x1="1475.3" y1="429.7" x2="1513.7" y2="429.7" stroke="#333333" stroke-width="2.6"/>
<text x="1082.5" y="310.6" font-size="20.8" fill="#4d4d4d" text-anchor="end">2.5</text>
<text x="1082.5" y="470.25" font-size="20.8" fill="#4d4d4d" text-anchor="end">0.0</text>
<text x="1082.5" y="629.9" font-size="20.8" fill="#4d4d4d" text-anchor="end">−2.5</text>
<text x="1240.62" y="777.7" font-size="20.8" fill="#4d4d4d" text-anchor="middle">CTL</text>
<text x="1494.6" y="777.7" font-size="20.8" fill="#4d4d4d" text-anchor="middle">SCZ</text>
<text transform="translate(1033.0 467.8) rotate(-90)" font-size="25.8" fill="#000" text-anchor="middle">SCZ PRS</text>
<text x="1089" y="166.9" font-size="23.15" fill="#000">p−value 1.468x10−29; OR 1.73; 95% CI 1.57 − 1.90</text>
</g>
<g class="panel">
<path d="M1088.7 1512.03H1646M1088.7 1352.38H1646M1088.7 1192.73H1646M1088.7 1033.08H1646" stroke="#ebebeb" stroke-width="0.75" fill="none"/>
<path d="M1088.7 1432.2H1646M1088.7 1272.55H1646M1088.7 1112.9H1646M1240.75 988.7V1566.5M1494.05 988.7V1566.5" stroke="#ebebeb" stroke-width="1.5" fill="none"/>
<path d="M1240.45 1014.7L1240.45 1015.7L1240.45 1016.7L1240.45 1017.7L1240.45 1018.7L1240.45 1019.7L1240.45 1020.7L1240.45 1021.7L1240.45 1022.7L1240.45 1023.7L1240.45 1024.7L1240.45 1025.7L1240.45 1026.7L1240.44 1027.7L1240.44 1028.7L1240.44 1029.7L1240.44 1030.7L1240.44 1031.7L1240.44 1032.7L1240.44 1033.7L1240.43 1034.7L1240.43 1035.7L1240.43 1036.7L1240.43 1037.7L1240.43 1038.7L1240.42 1039.7L1240.42 1040.7L1240.42 1041.7L1240.42 1042.7L1240.42 1043.7L1240.41 1044.7L1240.41 1045.7L1240.41 1046.7L1240.41 1047.7L1240.4 1048.7L1240.4 1049.7L1240.4 1050.7L1240.4 1051.7L1240.39 1052.7L1240.39 1053.7L1240.39 1054.7L1240.38 1055.7L1240.38 1056.7L1240.37 1057.7L1240.37 1058.7L1240.37 1059.7L1240.36 1060.7L1240.35 1061.7L1240.35 1062.7L1240.34 1063.7L1240.34 1064.7L1240.33 1065.7L1240.32 1066.7L1240.31 1067.7L1240.31 1068.7L1240.3 1069.7L1240.29 1070.7L1240.28 1071.7L1240.27 1072.7L1240.26 1073.7L1240.25 1074.7L1240.24 1075.7L1240.22 1076.7L1240.21 1077.7L1240.19 1078.7L1240.17 1079.7L1240.15 1080.7L1240.12 1081.7L1240.1 1082.7L1240.07 1083.7L1240.04 1084.7L1240 1085.7L1239.97 1086.7L1239.93 1087.7L1239.89 1088.7L1239.84 1089.7L1239.78 1090.7L1239.72 1091.7L1239.64 1092.7L1239.56 1093.7L1239.46 1094.7L1239.36 1095.7L1239.25 1096.7L1239.13 1097.7L1239 1098.7L1238.86 1099.7L1238.71 1100.7L1238.54 1101.7L1238.35 1102.7L1238.15 1103.7L1237.94 1104.7L1237.7 1105.7L1237.44 1106.7L1237.17 1107.7L1236.89 1108.7L1236.61 1109.7L1236.32 1110.7L1236.05 1111.7L1235.77 1112.7L1235.51 1113.7L1235.25 1114.7L1235 1115.7L1234.76 1116.7L1234.51 1117.7L1234.27 1118.7L1234.02 1119.7L1233.78 1120.7L1233.53 1121.7L1233.27 1122.7L1233.01 1123.7L1232.74 1124.7L1232.47 1125.7L1232.19 1126.7L1231.91 1127.7L1231.62 1128.7L1231.32 1129.7L1231.02 1130.7L1230.71 1131.7L1230.39 1132.7L1230.07 1133.7L1229.73 1134.7L1229.37 1135.7L1229.01 1136.7L1228.63 1137.7L1228.23 1138.7L1227.82 1139.7L1227.4 1140.7L1226.95 1141.7L1226.49 1142.7L1226.01 1143.7L1225.5 1144.7L1224.97 1145.7L1224.42 1146.7L1223.85 1147.7L1223.28 1148.7L1222.69 1149.7L1222.1 1150.7L1221.5 1151.7L1220.9 1152.7L1220.29 1153.7L1219.68 1154.7L1219.05 1155.7L1218.42 1156.7L1217.78 1157.7L1217.12 1158.7L1216.46 1159.7L1215.78 1160.7L1215.09 1161.7L1214.39 1162.7L1213.68 1163.7L1212.95 1164.7L1212.22 1165.7L1211.47 1166.7L1210.7 1167.7L1209.93 1168.7L1209.14 1169.7L1208.35 1170.7L1207.56 1171.7L1206.8 1172.7L1206.06 1173.7L1205.36 1174.7L1204.69 1175.7L1204.05 1176.7L1203.41 1177.7L1202.76 1178.7L1202.1 1179.7L1201.4 1180.7L1200.66 1181.7L1199.87 1182.7L1199 1183.7L1198.04 1184.7L1196.99 1185.7L1195.85 1186.7L1194.63 1187.7L1193.34 1188.7L1191.99 1189.7L1190.59 1190.7L1189.17 1191.7L1187.72 1192.7L1186.28 1193.7L1184.84 1194.7L1183.43 1195.7L1182.04 1196.7L1180.67 1197.7L1179.32 1198.7L1178 1199.7L1176.71 1200.7L1175.46 1201.7L1174.25 1202.7L1173.08 1203.7L1171.96 1204.7L1170.88 1205.7L1169.83 1206.7L1168.82 1207.7L1167.83 1208.7L1166.86 1209.7L1165.88 1210.7L1164.88 1211.7L1163.87 1212.7L1162.85 1213.7L1161.84 1214.7L1160.85 1215.7L1159.89 1216.7L1158.96 1217.7L1158.04 1218.7L1157.12 1219.7L1156.2 1220.7L1155.27 1221.7L1154.34 1222.7L1153.4 1223.7L1152.46 1224.7L1151.53 1225.7L1150.59 1226.7L1149.64 1227.7L1148.67 1228.7L1147.68 1229.7L1146.66 1230.7L1145.62 1231.7L1144.58 1232.7L1143.55 1233.7L1142.55 1234.7L1141.57 1235.7L1140.6 1236.7L1139.62 1237.7L1138.6 1238.7L1137.5 1239.7L1136.34 1240.7L1135.12 1241.7L1133.89 1242.7L1132.73 1243.7L1131.65 1244.7L1130.7 1245.7L1129.87 1246.7L1129.15 1247.7L1128.53 1248.7L1128.01 1249.7L1127.57 1250.7L1127.21 1251.7L1126.93 1252.7L1126.74 1253.7L1126.62 1254.7L1126.57 1255.7L1126.58 1256.7L1126.63 1257.7L1126.7 1258.7L1126.81 1259.7L1126.93 1260.7L1127.07 1261.7L1127.22 1262.7L1127.37 1263.7L1127.51 1264.7L1127.63 1265.7L1127.73 1266.7L1127.8 1267.7L1127.84 1268.7L1127.83 1269.7L1127.78 1270.7L1127.7 1271.7L1127.6 1272.7L1127.51 1273.7L1127.44 1274.7L1127.39 1275.7L1127.37 1276.7L1127.37 1277.7L1127.4 1278.7L1127.46 1279.7L1127.56 1280.7L1127.7 1281.7L1127.89 1282.7L1128.12 1283.7L1128.37 1284.7L1128.64 1285.7L1128.92 1286.7L1129.23 1287.7L1129.56 1288.7L1129.91 1289.7L1130.29 1290.7L1130.71 1291.7L1131.14 1292.7L1131.61 1293.7L1132.1 1294.7L1132.61 1295.7L1133.15 1296.7L1133.71 1297.7L1134.29 1298.7L1134.88 1299.7L1135.49 1300.7L1136.11 1301.7L1136.75 1302.7L1137.42 1303.7L1138.1 1304.7L1138.81 1305.7L1139.54 1306.7L1140.31 1307.7L1141.1 1308.7L1141.92 1309.7L1142.77 1310.7L1143.66 1311.7L1144.58 1312.7L1145.54 1313.7L1146.55 1314.7L1147.61 1315.7L1148.7 1316.7L1149.84 1317.7L1151 1318.7L1152.19 1319.7L1153.4 1320.7L1154.63 1321.7L1155.86 1322.7L1157.09 1323.7L1158.32 1324.7L1159.54 1325.7L1160.75 1326.7L1161.96 1327.7L1163.16 1328.7L1164.36 1329.7L1165.56 1330.7L1166.76 1331.7L1167.96 1332.7L1169.15 1333.7L1170.35 1334.7L1171.54 1335.7L1172.72 1336.7L1173.9 1337.7L1175.07 1338.7L1176.22 1339.7L1177.35 1340.7L1178.47 1341.7L1179.57 1342.7L1180.65 1343.7L1181.71 1344.7L1182.75 1345.7L1183.76 1346.7L1184.77 1347.7L1185.76 1348.7L1186.74 1349.7L1187.72 1350.7L1188.71 1351.7L1189.7 1352.7L1190.69 1353.7L1191.68 1354.7L1192.64 1355.7L1193.57 1356.7L1194.48 1357.7L1195.36 1358.7L1196.21 1359.7L1197.05 1360.7L1197.86 1361.7L1198.67 1362.7L1199.46 1363.7L1200.24 1364.7L1201.02 1365.7L1201.78 1366.7L1202.54 1367.7L1203.29 1368.7L1204.02 1369.7L1204.74 1370.7L1205.46 1371.7L1206.16 1372.7L1206.86 1373.7L1207.55 1374.7L1208.25 1375.7L1208.95 1376.7L1209.65 1377.7L1210.36 1378.7L1211.08 1379.7L1211.81 1380.7L1212.54 1381.7L1213.27 1382.7L1214 1383.7L1214.71 1384.7L1215.41 1385.7L1216.09 1386.7L1216.75 1387.7L1217.39 1388.7L1218.02 1389.7L1218.64 1390.7L1219.23 1391.7L1219.81 1392.7L1220.36 1393.7L1220.89 1394.7L1221.39 1395.7L1221.87 1396.7L1222.34 1397.7L1222.81 1398.7L1223.29 1399.7L1223.77 1400.7L1224.26 1401.7L1224.75 1402.7L1225.25 1403.7L1225.74 1404.7L1226.22 1405.7L1226.69 1406.7L1227.15 1407.7L1227.58 1408.7L1228 1409.7L1228.38 1410.7L1228.75 1411.7L1229.09 1412.7L1229.41 1413.7L1229.72 1414.7L1230.01 1415.7L1230.28 1416.7L1230.54 1417.7L1230.8 1418.7L1231.05 1419.7L1231.29 1420.7L1231.53 1421.7L1231.77 1422.7L1232.02 1423.7L1232.27 1424.7L1232.52 1425.7L1232.77 1426.7L1233.03 1427.7L1233.29 1428.7L1233.54 1429.7L1233.79 1430.7L1234.03 1431.7L1234.27 1432.7L1234.52 1433.7L1234.77 1434.7L1235.02 1435.7L1235.28 1436.7L1235.54 1437.7L1235.79 1438.7L1236.02 1439.7L1236.25 1440.7L1236.47 1441.7L1236.67 1442.7L1236.85 1443.7L1237.02 1444.7L1237.18 1445.7L1237.32 1446.7L1237.46 1447.7L1237.58 1448.7L1237.71 1449.7L1237.83 1450.7L1237.96 1451.7L1238.09 1452.7L1238.22 1453.7L1238.35 1454.7L1238.47 1455.7L1238.6 1456.7L1238.72 1457.7L1238.83 1458.7L1238.94 1459.7L1239.04 1460.7L1239.14 1461.7L1239.24 1462.7L1239.33 1463.7L1239.41 1464.7L1239.49 1465.7L1239.57 1466.7L1239.63 1467.7L1239.69 1468.7L1239.74 1469.7L1239.79 1470.7L1239.83 1471.7L1239.86 1472.7L1239.9 1473.7L1239.93 1474.7L1239.97 1475.7L1240 1476.7L1240.03 1477.7L1240.06 1478.7L1240.08 1479.7L1240.11 1480.7L1240.13 1481.7L1240.15 1482.7L1240.17 1483.7L1240.19 1484.7L1240.2 1485.7L1240.22 1486.7L1240.23 1487.7L1240.24 1488.7L1240.25 1489.7L1240.26 1490.7L1240.27 1491.7L1240.27 1492.7L1240.28 1493.7L1240.29 1494.7L1240.3 1495.7L1240.3 1496.7L1240.31 1497.7L1240.32 1498.7L1240.32 1499.7L1240.33 1500.7L1240.33 1501.7L1240.34 1502.7L1240.35 1503.7L1240.35 1504.7L1240.36 1505.7L1240.36 1506.7L1240.37 1507.7L1240.37 1508.7L1240.38 1509.7L1240.38 1510.7L1240.39 1511.7L1240.39 1512.7L1240.4 1513.7L1240.4 1514.7L1240.4 1515.7L1240.41 1516.7L1240.41 1517.7L1240.41 1518.7L1240.42 1519.7L1240.42 1520.7L1240.42 1521.7L1240.43 1522.7L1240.43 1523.7L1240.43 1524.7L1240.44 1525.7L1240.44 1526.7L1240.44 1527.7L1240.44 1528.7L1240.44 1529.7L1240.44 1530.7L1240.45 1531.7L1240.45 1532.7L1240.45 1533.7L1240.45 1534.7L1240.45 1535.7L1240.45 1536.7L1240.45 1537.7L1240.45 1538.7L1240.45 1539.7L1240.45 1540L1241.05 1540L1241.05 1539.7L1241.05 1538.7L1241.05 1537.7L1241.05 1536.7L1241.05 1535.7L1241.06 1534.7L1241.06 1533.7L1241.06 1532.7L1241.06 1531.7L1241.06 1530.7L1241.06 1529.7L1241.06 1528.7L1241.07 1527.7L1241.07 1526.7L1241.07 1525.7L1241.07 1524.7L1241.07 1523.7L1241.08 1522.7L1241.08 1521.7L1241.08 1520.7L1241.09 1519.7L1241.09 1518.7L1241.09 1517.7L1241.1 1516.7L1241.1 1515.7L1241.11 1514.7L1241.11 1513.7L1241.11 1512.7L1241.12 1511.7L1241.12 1510.7L1241.13 1509.7L1241.13 1508.7L1241.14 1507.7L1241.14 1506.7L1241.15 1505.7L1241.15 1504.7L1241.16 1503.7L1241.16 1502.7L1241.17 1501.7L1241.18 1500.7L1241.18 1499.7L1241.19 1498.7L1241.2 1497.7L1241.2 1496.7L1241.21 1495.7L1241.22 1494.7L1241.22 1493.7L1241.23 1492.7L1241.24 1491.7L1241.25 1490.7L1241.25 1489.7L1241.26 1488.7L1241.28 1487.7L1241.29 1486.7L1241.3 1485.7L1241.32 1484.7L1241.34 1483.7L1241.36 1482.7L1241.38 1481.7L1241.4 1480.7L1241.42 1479.7L1241.45 1478.7L1241.48 1477.7L1241.51 1476.7L1241.54 1475.7L1241.57 1474.7L1241.6 1473.7L1241.64 1472.7L1241.68 1471.7L1241.72 1470.7L1241.76 1469.7L1241.82 1468.7L1241.87 1467.7L1241.94 1466.7L1242.01 1465.7L1242.09 1464.7L1242.18 1463.7L1242.27 1462.7L1242.36 1461.7L1242.46 1460.7L1242.56 1459.7L1242.67 1458.7L1242.79 1457.7L1242.91 1456.7L1243.03 1455.7L1243.16 1454.7L1243.29 1453.7L1243.42 1452.7L1243.55 1451.7L1243.67 1450.7L1243.8 1449.7L1243.92 1448.7L1244.05 1447.7L1244.18 1446.7L1244.33 1445.7L1244.48 1444.7L1244.65 1443.7L1244.84 1442.7L1245.04 1441.7L1245.25 1440.7L1245.48 1439.7L1245.72 1438.7L1245.97 1437.7L1246.22 1436.7L1246.48 1435.7L1246.74 1434.7L1246.98 1433.7L1247.23 1432.7L1247.47 1431.7L1247.72 1430.7L1247.97 1429.7L1248.22 1428.7L1248.47 1427.7L1248.73 1426.7L1248.99 1425.7L1249.24 1424.7L1249.49 1423.7L1249.73 1422.7L1249.97 1421.7L1250.22 1420.7L1250.46 1419.7L1250.71 1418.7L1250.96 1417.7L1251.23 1416.7L1251.5 1415.7L1251.79 1414.7L1252.09 1413.7L1252.41 1412.7L1252.76 1411.7L1253.12 1410.7L1253.51 1409.7L1253.92 1408.7L1254.36 1407.7L1254.81 1406.7L1255.28 1405.7L1255.77 1404.7L1256.26 1403.7L1256.75 1402.7L1257.25 1401.7L1257.74 1400.7L1258.22 1399.7L1258.69 1398.7L1259.16 1397.7L1259.63 1396.7L1260.11 1395.7L1260.62 1394.7L1261.14 1393.7L1261.69 1392.7L1262.27 1391.7L1262.87 1390.7L1263.48 1389.7L1264.11 1388.7L1264.76 1387.7L1265.42 1386.7L1266.1 1385.7L1266.79 1384.7L1267.51 1383.7L1268.23 1382.7L1268.96 1381.7L1269.7 1380.7L1270.42 1379.7L1271.14 1378.7L1271.85 1377.7L1272.56 1376.7L1273.25 1375.7L1273.95 1374.7L1274.65 1373.7L1275.35 1372.7L1276.05 1371.7L1276.76 1370.7L1277.48 1369.7L1278.22 1368.7L1278.96 1367.7L1279.72 1366.7L1280.49 1365.7L1281.26 1364.7L1282.05 1363.7L1282.84 1362.7L1283.64 1361.7L1284.46 1360.7L1285.29 1359.7L1286.15 1358.7L1287.03 1357.7L1287.93 1356.7L1288.87 1355.7L1289.83 1354.7L1290.81 1353.7L1291.8 1352.7L1292.8 1351.7L1293.78 1350.7L1294.77 1349.7L1295.75 1348.7L1296.74 1347.7L1297.74 1346.7L1298.76 1345.7L1299.8 1344.7L1300.86 1343.7L1301.94 1342.7L1303.03 1341.7L1304.15 1340.7L1305.29 1339.7L1306.44 1338.7L1307.6 1337.7L1308.78 1336.7L1309.97 1335.7L1311.16 1334.7L1312.35 1333.7L1313.55 1332.7L1314.75 1331.7L1315.95 1330.7L1317.15 1329.7L1318.35 1328.7L1319.55 1327.7L1320.75 1326.7L1321.96 1325.7L1323.18 1324.7L1324.41 1323.7L1325.64 1322.7L1326.88 1321.7L1328.1 1320.7L1329.31 1319.7L1330.5 1318.7L1331.67 1317.7L1332.8 1316.7L1333.9 1315.7L1334.95 1314.7L1335.96 1313.7L1336.93 1312.7L1337.85 1311.7L1338.74 1310.7L1339.59 1309.7L1340.41 1308.7L1341.2 1307.7L1341.96 1306.7L1342.69 1305.7L1343.4 1304.7L1344.09 1303.7L1344.75 1302.7L1345.39 1301.7L1346.02 1300.7L1346.63 1299.7L1347.22 1298.7L1347.8 1297.7L1348.35 1296.7L1348.89 1295.7L1349.4 1294.7L1349.89 1293.7L1350.36 1292.7L1350.8 1291.7L1351.21 1290.7L1351.59 1289.7L1351.95 1288.7L1352.28 1287.7L1352.58 1286.7L1352.87 1285.7L1353.14 1284.7L1353.39 1283.7L1353.61 1282.7L1353.8 1281.7L1353.95 1280.7L1354.05 1279.7L1354.11 1278.7L1354.13 1277.7L1354.13 1276.7L1354.11 1275.7L1354.07 1274.7L1354 1273.7L1353.91 1272.7L1353.81 1271.7L1353.72 1270.7L1353.68 1269.7L1353.67 1268.7L1353.71 1267.7L1353.78 1266.7L1353.88 1265.7L1354 1264.7L1354.13 1263.7L1354.28 1262.7L1354.43 1261.7L1354.57 1260.7L1354.7 1259.7L1354.8 1258.7L1354.88 1257.7L1354.93 1256.7L1354.94 1255.7L1354.89 1254.7L1354.77 1253.7L1354.57 1252.7L1354.29 1251.7L1353.93 1250.7L1353.49 1249.7L1352.97 1248.7L1352.36 1247.7L1351.64 1246.7L1350.8 1245.7L1349.85 1244.7L1348.78 1243.7L1347.61 1242.7L1346.39 1241.7L1345.17 1240.7L1344 1239.7L1342.91 1238.7L1341.89 1237.7L1340.91 1236.7L1339.94 1235.7L1338.96 1234.7L1337.95 1233.7L1336.92 1232.7L1335.88 1231.7L1334.85 1230.7L1333.83 1229.7L1332.84 1228.7L1331.87 1227.7L1330.92 1226.7L1329.98 1225.7L1329.04 1224.7L1328.1 1223.7L1327.17 1222.7L1326.23 1221.7L1325.3 1220.7L1324.38 1219.7L1323.47 1218.7L1322.55 1217.7L1321.61 1216.7L1320.65 1215.7L1319.67 1214.7L1318.65 1213.7L1317.63 1212.7L1316.62 1211.7L1315.63 1210.7L1314.65 1209.7L1313.67 1208.7L1312.68 1207.7L1311.67 1206.7L1310.63 1205.7L1309.55 1204.7L1308.42 1203.7L1307.26 1202.7L1306.05 1201.7L1304.79 1200.7L1303.51 1199.7L1302.18 1198.7L1300.84 1197.7L1299.47 1196.7L1298.08 1195.7L1296.66 1194.7L1295.23 1193.7L1293.78 1192.7L1292.34 1191.7L1290.91 1190.7L1289.52 1189.7L1288.17 1188.7L1286.88 1187.7L1285.66 1186.7L1284.52 1185.7L1283.47 1184.7L1282.51 1183.7L1281.64 1182.7L1280.84 1181.7L1280.11 1180.7L1279.41 1179.7L1278.74 1178.7L1278.1 1177.7L1277.46 1176.7L1276.81 1175.7L1276.15 1174.7L1275.45 1173.7L1274.71 1172.7L1273.94 1171.7L1273.15 1170.7L1272.36 1169.7L1271.58 1168.7L1270.8 1167.7L1270.04 1166.7L1269.29 1165.7L1268.55 1164.7L1267.82 1163.7L1267.11 1162.7L1266.41 1161.7L1265.72 1160.7L1265.05 1159.7L1264.38 1158.7L1263.73 1157.7L1263.09 1156.7L1262.45 1155.7L1261.83 1154.7L1261.21 1153.7L1260.61 1152.7L1260 1151.7L1259.41 1150.7L1258.82 1149.7L1258.23 1148.7L1257.65 1147.7L1257.08 1146.7L1256.53 1145.7L1256.01 1144.7L1255.5 1143.7L1255.02 1142.7L1254.55 1141.7L1254.11 1140.7L1253.68 1139.7L1253.27 1138.7L1252.88 1137.7L1252.5 1136.7L1252.13 1135.7L1251.78 1134.7L1251.44 1133.7L1251.11 1132.7L1250.79 1131.7L1250.48 1130.7L1250.18 1129.7L1249.89 1128.7L1249.6 1127.7L1249.32 1126.7L1249.04 1125.7L1248.76 1124.7L1248.5 1123.7L1248.24 1122.7L1247.98 1121.7L1247.73 1120.7L1247.48 1119.7L1247.24 1118.7L1246.99 1117.7L1246.75 1116.7L1246.5 1115.7L1246.25 1114.7L1246 1113.7L1245.73 1112.7L1245.46 1111.7L1245.18 1110.7L1244.9 1109.7L1244.61 1108.7L1244.33 1107.7L1244.06 1106.7L1243.81 1105.7L1243.57 1104.7L1243.35 1103.7L1243.15 1102.7L1242.97 1101.7L1242.8 1100.7L1242.64 1099.7L1242.5 1098.7L1242.37 1097.7L1242.25 1096.7L1242.14 1095.7L1242.04 1094.7L1241.95 1093.7L1241.86 1092.7L1241.79 1091.7L1241.72 1090.7L1241.67 1089.7L1241.62 1088.7L1241.58 1087.7L1241.54 1086.7L1241.5 1085.7L1241.47 1084.7L1241.44 1083.7L1241.41 1082.7L1241.38 1081.7L1241.36 1080.7L1241.34 1079.7L1241.32 1078.7L1241.3 1077.7L1241.28 1076.7L1241.27 1075.7L1241.26 1074.7L1241.24 1073.7L1241.23 1072.7L1241.22 1071.7L1241.22 1070.7L1241.21 1069.7L1241.2 1068.7L1241.19 1067.7L1241.18 1066.7L1241.18 1065.7L1241.17 1064.7L1241.16 1063.7L1241.16 1062.7L1241.15 1061.7L1241.14 1060.7L1241.14 1059.7L1241.13 1058.7L1241.13 1057.7L1241.13 1056.7L1241.12 1055.7L1241.12 1054.7L1241.11 1053.7L1241.11 1052.7L1241.11 1051.7L1241.11 1050.7L1241.1 1049.7L1241.1 1048.7L1241.1 1047.7L1241.1 1046.7L1241.09 1045.7L1241.09 1044.7L1241.09 1043.7L1241.09 1042.7L1241.08 1041.7L1241.08 1040.7L1241.08 1039.7L1241.08 1038.7L1241.08 1037.7L1241.07 1036.7L1241.07 1035.7L1241.07 1034.7L1241.07 1033.7L1241.07 1032.7L1241.07 1031.7L1241.07 1030.7L1241.06 1029.7L1241.06 1028.7L1241.06 1027.7L1241.06 1026.7L1241.06 1025.7L1241.06 1024.7L1241.06 1023.7L1241.06 1022.7L1241.06 1021.7L1241.05 1020.7L1241.05 1019.7L1241.05 1018.7L1241.05 1017.7L1241.05 1016.7L1241.05 1015.7L1241.05 1014.7Z" fill="#9e9e9e" stroke="#333333" stroke-width="1.4" stroke-linejoin="round"/>
<path d="M1491.15 1036.75L1491.06 1037.75L1490.98 1038.75L1490.89 1039.75L1490.81 1040.75L1490.72 1041.75L1490.63 1042.75L1490.53 1043.75L1490.43 1044.75L1490.33 1045.75L1490.23 1046.75L1490.12 1047.75L1490 1048.75L1489.89 1049.75L1489.77 1050.75L1489.64 1051.75L1489.51 1052.75L1489.38 1053.75L1489.24 1054.75L1489.1 1055.75L1488.96 1056.75L1488.81 1057.75L1488.66 1058.75L1488.5 1059.75L1488.34 1060.75L1488.17 1061.75L1487.99 1062.75L1487.8 1063.75L1487.61 1064.75L1487.41 1065.75L1487.21 1066.75L1487.01 1067.75L1486.81 1068.75L1486.61 1069.75L1486.4 1070.75L1486.2 1071.75L1485.98 1072.75L1485.76 1073.75L1485.52 1074.75L1485.28 1075.75L1485.03 1076.75L1484.77 1077.75L1484.5 1078.75L1484.22 1079.75L1483.93 1080.75L1483.64 1081.75L1483.35 1082.75L1483.06 1083.75L1482.76 1084.75L1482.45 1085.75L1482.14 1086.75L1481.81 1087.75L1481.47 1088.75L1481.12 1089.75L1480.76 1090.75L1480.39 1091.75L1480.01 1092.75L1479.62 1093.75L1479.23 1094.75L1478.82 1095.75L1478.39 1096.75L1477.95 1097.75L1477.48 1098.75L1476.99 1099.75L1476.49 1100.75L1475.98 1101.75L1475.46 1102.75L1474.94 1103.75L1474.4 1104.75L1473.85 1105.75L1473.29 1106.75L1472.7 1107.75L1472.09 1108.75L1471.46 1109.75L1470.8 1110.75L1470.11 1111.75L1469.4 1112.75L1468.66 1113.75L1467.89 1114.75L1467.08 1115.75L1466.25 1116.75L1465.39 1117.75L1464.5 1118.75L1463.59 1119.75L1462.66 1120.75L1461.71 1121.75L1460.74 1122.75L1459.73 1123.75L1458.69 1124.75L1457.6 1125.75L1456.45 1126.75L1455.26 1127.75L1454.03 1128.75L1452.77 1129.75L1451.52 1130.75L1450.27 1131.75L1449.03 1132.75L1447.83 1133.75L1446.65 1134.75L1445.5 1135.75L1444.39 1136.75L1443.3 1137.75L1442.24 1138.75L1441.2 1139.75L1440.18 1140.75L1439.19 1141.75L1438.21 1142.75L1437.26 1143.75L1436.32 1144.75L1435.41 1145.75L1434.51 1146.75L1433.64 1147.75L1432.78 1148.75L1431.95 1149.75L1431.13 1150.75L1430.34 1151.75L1429.56 1152.75L1428.8 1153.75L1428.06 1154.75L1427.33 1155.75L1426.62 1156.75L1425.92 1157.75L1425.23 1158.75L1424.56 1159.75L1423.89 1160.75L1423.24 1161.75L1422.59 1162.75L1421.96 1163.75L1421.35 1164.75L1420.74 1165.75L1420.14 1166.75L1419.54 1167.75L1418.94 1168.75L1418.34 1169.75L1417.74 1170.75L1417.15 1171.75L1416.55 1172.75L1415.96 1173.75L1415.37 1174.75L1414.77 1175.75L1414.14 1176.75L1413.48 1177.75L1412.8 1178.75L1412.09 1179.75L1411.39 1180.75L1410.7 1181.75L1410.02 1182.75L1409.36 1183.75L1408.69 1184.75L1408.02 1185.75L1407.35 1186.75L1406.68 1187.75L1406.01 1188.75L1405.36 1189.75L1404.72 1190.75L1404.09 1191.75L1403.49 1192.75L1402.9 1193.75L1402.32 1194.75L1401.75 1195.75L1401.2 1196.75L1400.66 1197.75L1400.12 1198.75L1399.6 1199.75L1399.08 1200.75L1398.57 1201.75L1398.06 1202.75L1397.58 1203.75L1397.1 1204.75L1396.64 1205.75L1396.2 1206.75L1395.78 1207.75L1395.37 1208.75L1394.99 1209.75L1394.62 1210.75L1394.27 1211.75L1393.95 1212.75L1393.65 1213.75L1393.37 1214.75L1393.12 1215.75L1392.89 1216.75L1392.68 1217.75L1392.49 1218.75L1392.33 1219.75L1392.18 1220.75L1392.05 1221.75L1391.95 1222.75L1391.87 1223.75L1391.82 1224.75L1391.8 1225.75L1391.79 1226.75L1391.81 1227.75L1391.84 1228.75L1391.89 1229.75L1391.97 1230.75L1392.08 1231.75L1392.22 1232.75L1392.39 1233.75L1392.6 1234.75L1392.85 1235.75L1393.14 1236.75L1393.48 1237.75L1393.85 1238.75L1394.26 1239.75L1394.72 1240.75L1395.21 1241.75L1395.75 1242.75L1396.32 1243.75L1396.93 1244.75L1397.59 1245.75L1398.28 1246.75L1399.02 1247.75L1399.8 1248.75L1400.63 1249.75L1401.5 1250.75L1402.43 1251.75L1403.4 1252.75L1404.41 1253.75L1405.46 1254.75L1406.55 1255.75L1407.67 1256.75L1408.82 1257.75L1409.99 1258.75L1411.19 1259.75L1412.39 1260.75L1413.59 1261.75L1414.78 1262.75L1415.94 1263.75L1417.04 1264.75L1418.08 1265.75L1419.06 1266.75L1419.98 1267.75L1420.85 1268.75L1421.67 1269.75L1422.45 1270.75L1423.2 1271.75L1423.91 1272.75L1424.6 1273.75L1425.26 1274.75L1425.9 1275.75L1426.52 1276.75L1427.13 1277.75L1427.71 1278.75L1428.28 1279.75L1428.82 1280.75L1429.35 1281.75L1429.85 1282.75L1430.34 1283.75L1430.79 1284.75L1431.23 1285.75L1431.64 1286.75L1432.02 1287.75L1432.38 1288.75L1432.72 1289.75L1433.02 1290.75L1433.31 1291.75L1433.58 1292.75L1433.84 1293.75L1434.1 1294.75L1434.36 1295.75L1434.61 1296.75L1434.87 1297.75L1435.13 1298.75L1435.38 1299.75L1435.62 1300.75L1435.87 1301.75L1436.11 1302.75L1436.36 1303.75L1436.62 1304.75L1436.89 1305.75L1437.18 1306.75L1437.48 1307.75L1437.8 1308.75L1438.14 1309.75L1438.5 1310.75L1438.88 1311.75L1439.27 1312.75L1439.69 1313.75L1440.13 1314.75L1440.59 1315.75L1441.06 1316.75L1441.56 1317.75L1442.07 1318.75L1442.6 1319.75L1443.13 1320.75L1443.68 1321.75L1444.24 1322.75L1444.81 1323.75L1445.39 1324.75L1445.97 1325.75L1446.56 1326.75L1447.16 1327.75L1447.76 1328.75L1448.35 1329.75L1448.93 1330.75L1449.51 1331.75L1450.08 1332.75L1450.64 1333.75L1451.21 1334.75L1451.77 1335.75L1452.34 1336.75L1452.9 1337.75L1453.48 1338.75L1454.06 1339.75L1454.65 1340.75L1455.26 1341.75L1455.87 1342.75L1456.49 1343.75L1457.11 1344.75L1457.73 1345.75L1458.34 1346.75L1458.95 1347.75L1459.56 1348.75L1460.16 1349.75L1460.76 1350.75L1461.37 1351.75L1461.97 1352.75L1462.57 1353.75L1463.18 1354.75L1463.78 1355.75L1464.39 1356.75L1464.99 1357.75L1465.6 1358.75L1466.2 1359.75L1466.79 1360.75L1467.38 1361.75L1467.96 1362.75L1468.53 1363.75L1469.1 1364.75L1469.67 1365.75L1470.23 1366.75L1470.8 1367.75L1471.36 1368.75L1471.93 1369.75L1472.49 1370.75L1473.05 1371.75L1473.59 1372.75L1474.13 1373.75L1474.67 1374.75L1475.19 1375.75L1475.7 1376.75L1476.21 1377.75L1476.7 1378.75L1477.18 1379.75L1477.65 1380.75L1478.11 1381.75L1478.55 1382.75L1478.98 1383.75L1479.41 1384.75L1479.82 1385.75L1480.23 1386.75L1480.63 1387.75L1481.02 1388.75L1481.4 1389.75L1481.78 1390.75L1482.15 1391.75L1482.5 1392.75L1482.84 1393.75L1483.16 1394.75L1483.47 1395.75L1483.78 1396.75L1484.08 1397.75L1484.37 1398.75L1484.66 1399.75L1484.95 1400.75L1485.23 1401.75L1485.5 1402.75L1485.75 1403.75L1485.99 1404.75L1486.21 1405.75L1486.43 1406.75L1486.64 1407.75L1486.85 1408.75L1487.07 1409.75L1487.29 1410.75L1487.51 1411.75L1487.73 1412.75L1487.95 1413.75L1488.19 1414.75L1488.35 1415.27L1499.75 1415.27L1499.92 1414.75L1500.16 1413.75L1500.38 1412.75L1500.6 1411.75L1500.82 1410.75L1501.04 1409.75L1501.26 1408.75L1501.47 1407.75L1501.68 1406.75L1501.89 1405.75L1502.12 1404.75L1502.35 1403.75L1502.61 1402.75L1502.88 1401.75L1503.16 1400.75L1503.45 1399.75L1503.74 1398.75L1504.03 1397.75L1504.33 1396.75L1504.63 1395.75L1504.95 1394.75L1505.27 1393.75L1505.61 1392.75L1505.96 1391.75L1506.33 1390.75L1506.7 1389.75L1507.09 1388.75L1507.48 1387.75L1507.88 1386.75L1508.29 1385.75L1508.7 1384.75L1509.12 1383.75L1509.56 1382.75L1510 1381.75L1510.46 1380.75L1510.93 1379.75L1511.41 1378.75L1511.9 1377.75L1512.4 1376.75L1512.92 1375.75L1513.44 1374.75L1513.97 1373.75L1514.51 1372.75L1515.06 1371.75L1515.62 1370.75L1516.18 1369.75L1516.74 1368.75L1517.31 1367.75L1517.88 1366.75L1518.44 1365.75L1519.01 1364.75L1519.58 1363.75L1520.15 1362.75L1520.73 1361.75L1521.31 1360.75L1521.91 1359.75L1522.51 1358.75L1523.11 1357.75L1523.72 1356.75L1524.32 1355.75L1524.93 1354.75L1525.53 1353.75L1526.14 1352.75L1526.74 1351.75L1527.34 1350.75L1527.95 1349.75L1528.55 1348.75L1529.15 1347.75L1529.76 1346.75L1530.38 1345.75L1530.99 1344.75L1531.61 1343.75L1532.23 1342.75L1532.85 1341.75L1533.45 1340.75L1534.05 1339.75L1534.63 1338.75L1535.2 1337.75L1535.77 1336.75L1536.33 1335.75L1536.9 1334.75L1537.46 1333.75L1538.03 1332.75L1538.6 1331.75L1539.18 1330.75L1539.76 1329.75L1540.35 1328.75L1540.95 1327.75L1541.54 1326.75L1542.14 1325.75L1542.72 1324.75L1543.3 1323.75L1543.87 1322.75L1544.43 1321.75L1544.97 1320.75L1545.51 1319.75L1546.04 1318.75L1546.55 1317.75L1547.04 1316.75L1547.52 1315.75L1547.98 1314.75L1548.42 1313.75L1548.83 1312.75L1549.23 1311.75L1549.61 1310.75L1549.97 1309.75L1550.31 1308.75L1550.63 1307.75L1550.93 1306.75L1551.22 1305.75L1551.49 1304.75L1551.75 1303.75L1552 1302.75L1552.24 1301.75L1552.48 1300.75L1552.73 1299.75L1552.98 1298.75L1553.24 1297.75L1553.49 1296.75L1553.75 1295.75L1554.01 1294.75L1554.27 1293.75L1554.53 1292.75L1554.8 1291.75L1555.08 1290.75L1555.39 1289.75L1555.72 1288.75L1556.08 1287.75L1556.47 1286.75L1556.88 1285.75L1557.31 1284.75L1557.77 1283.75L1558.25 1282.75L1558.76 1281.75L1559.28 1280.75L1559.83 1279.75L1560.4 1278.75L1560.98 1277.75L1561.58 1276.75L1562.21 1275.75L1562.85 1274.75L1563.51 1273.75L1564.2 1272.75L1564.91 1271.75L1565.65 1270.75L1566.44 1269.75L1567.26 1268.75L1568.13 1267.75L1569.05 1266.75L1570.03 1265.75L1571.07 1264.75L1572.17 1263.75L1573.33 1262.75L1574.51 1261.75L1575.72 1260.75L1576.92 1259.75L1578.11 1258.75L1579.29 1257.75L1580.44 1256.75L1581.56 1255.75L1582.65 1254.75L1583.7 1253.75L1584.71 1252.75L1585.68 1251.75L1586.6 1250.75L1587.48 1249.75L1588.31 1248.75L1589.09 1247.75L1589.83 1246.75L1590.52 1245.75L1591.17 1244.75L1591.79 1243.75L1592.36 1242.75L1592.89 1241.75L1593.39 1240.75L1593.84 1239.75L1594.26 1238.75L1594.63 1237.75L1594.97 1236.75L1595.26 1235.75L1595.51 1234.75L1595.72 1233.75L1595.89 1232.75L1596.03 1231.75L1596.14 1230.75L1596.21 1229.75L1596.27 1228.75L1596.3 1227.75L1596.31 1226.75L1596.31 1225.75L1596.29 1224.75L1596.24 1223.75L1596.16 1222.75L1596.05 1221.75L1595.93 1220.75L1595.78 1219.75L1595.62 1218.75L1595.43 1217.75L1595.22 1216.75L1594.99 1215.75L1594.74 1214.75L1594.46 1213.75L1594.16 1212.75L1593.83 1211.75L1593.49 1210.75L1593.12 1209.75L1592.74 1208.75L1592.33 1207.75L1591.91 1206.75L1591.46 1205.75L1591 1204.75L1590.53 1203.75L1590.04 1202.75L1589.54 1201.75L1589.03 1200.75L1588.51 1199.75L1587.99 1198.75L1587.45 1197.75L1586.91 1196.75L1586.35 1195.75L1585.79 1194.75L1585.21 1193.75L1584.62 1192.75L1584.01 1191.75L1583.39 1190.75L1582.75 1189.75L1582.1 1188.75L1581.43 1187.75L1580.76 1186.75L1580.08 1185.75L1579.42 1184.75L1578.75 1183.75L1578.09 1182.75L1577.41 1181.75L1576.72 1180.75L1576.01 1179.75L1575.31 1178.75L1574.62 1177.75L1573.97 1176.75L1573.34 1175.75L1572.74 1174.75L1572.15 1173.75L1571.55 1172.75L1570.96 1171.75L1570.36 1170.75L1569.76 1169.75L1569.17 1168.75L1568.57 1167.75L1567.97 1166.75L1567.37 1165.75L1566.76 1164.75L1566.14 1163.75L1565.51 1162.75L1564.87 1161.75L1564.22 1160.75L1563.55 1159.75L1562.87 1158.75L1562.19 1157.75L1561.49 1156.75L1560.77 1155.75L1560.05 1154.75L1559.31 1153.75L1558.55 1152.75L1557.77 1151.75L1556.97 1150.75L1556.16 1149.75L1555.32 1148.75L1554.47 1147.75L1553.6 1146.75L1552.7 1145.75L1551.79 1144.75L1550.85 1143.75L1549.9 1142.75L1548.92 1141.75L1547.93 1140.75L1546.91 1139.75L1545.87 1138.75L1544.81 1137.75L1543.72 1136.75L1542.6 1135.75L1541.46 1134.75L1540.28 1133.75L1539.07 1132.75L1537.84 1131.75L1536.59 1130.75L1535.33 1129.75L1534.08 1128.75L1532.85 1127.75L1531.65 1126.75L1530.51 1125.75L1529.42 1124.75L1528.37 1123.75L1527.37 1122.75L1526.4 1121.75L1525.45 1120.75L1524.51 1119.75L1523.6 1118.75L1522.72 1117.75L1521.85 1116.75L1521.02 1115.75L1520.22 1114.75L1519.45 1113.75L1518.71 1112.75L1518 1111.75L1517.31 1110.75L1516.65 1109.75L1516.01 1108.75L1515.41 1107.75L1514.82 1106.75L1514.26 1105.75L1513.71 1104.75L1513.17 1103.75L1512.64 1102.75L1512.12 1101.75L1511.61 1100.75L1511.11 1099.75L1510.63 1098.75L1510.16 1097.75L1509.71 1096.75L1509.29 1095.75L1508.88 1094.75L1508.48 1093.75L1508.1 1092.75L1507.72 1091.75L1507.35 1090.75L1506.99 1089.75L1506.64 1088.75L1506.3 1087.75L1505.97 1086.75L1505.66 1085.75L1505.35 1084.75L1505.05 1083.75L1504.76 1082.75L1504.46 1081.75L1504.18 1080.75L1503.89 1079.75L1503.61 1078.75L1503.34 1077.75L1503.08 1076.75L1502.83 1075.75L1502.58 1074.75L1502.35 1073.75L1502.13 1072.75L1501.91 1071.75L1501.7 1070.75L1501.5 1069.75L1501.3 1068.75L1501.1 1067.75L1500.9 1066.75L1500.7 1065.75L1500.5 1064.75L1500.31 1063.75L1500.12 1062.75L1499.94 1061.75L1499.77 1060.75L1499.61 1059.75L1499.45 1058.75L1499.3 1057.75L1499.15 1056.75L1499 1055.75L1498.86 1054.75L1498.73 1053.75L1498.59 1052.75L1498.47 1051.75L1498.34 1050.75L1498.22 1049.75L1498.1 1048.75L1497.99 1047.75L1497.88 1046.75L1497.78 1045.75L1497.68 1044.75L1497.58 1043.75L1497.48 1042.75L1497.39 1041.75L1497.3 1040.75L1497.21 1039.75L1497.13 1038.75L1497.04 1037.75L1496.95 1036.75Z" fill="#ee6a50" stroke="#333333" stroke-width="1.4" stroke-linejoin="round"/>
<g fill="#333333"><circle cx="1240.75" cy="1014.7" r="2.9"/><circle cx="1240.75" cy="1018.9" r="2.9"/><circle cx="1240.75" cy="1023.2" r="2.9"/><circle cx="1240.75" cy="1036.8" r="2.9"/><circle cx="1240.75" cy="1044.2" r="2.9"/><circle cx="1240.75" cy="1051.4" r="2.9"/><circle cx="1240.75" cy="1054.3" r="2.9"/><circle cx="1240.75" cy="1058" r="2.9"/><circle cx="1240.75" cy="1059.6" r="2.9"/><circle cx="1240.75" cy="1061.2" r="2.9"/><circle cx="1240.75" cy="1062.8" r="2.9"/><circle cx="1240.75" cy="1064.4" r="2.9"/><circle cx="1240.75" cy="1066" r="2.9"/><circle cx="1240.75" cy="1067.6" r="2.9"/><circle cx="1240.75" cy="1069.2" r="2.9"/><circle cx="1240.75" cy="1070.8" r="2.9"/><circle cx="1240.75" cy="1072.4" r="2.9"/><circle cx="1240.75" cy="1074" r="2.9"/><circle cx="1240.75" cy="1075.6" r="2.9"/><circle cx="1240.75" cy="1077.2" r="2.9"/><circle cx="1240.75" cy="1078.8" r="2.9"/><circle cx="1240.75" cy="1080.4" r="2.9"/><circle cx="1240.75" cy="1082" r="2.9"/><circle cx="1240.75" cy="1083.6" r="2.9"/><circle cx="1240.75" cy="1085.2" r="2.9"/><circle cx="1240.75" cy="1086.8" r="2.9"/><circle cx="1240.75" cy="1088.4" r="2.9"/><circle cx="1240.75" cy="1090" r="2.9"/><circle cx="1240.75" cy="1091.6" r="2.9"/><circle cx="1240.75" cy="1093.2" r="2.9"/><circle cx="1240.75" cy="1094.8" r="2.9"/><circle cx="1240.75" cy="1096.4" r="2.9"/><circle cx="1240.75" cy="1098" r="2.9"/><circle cx="1240.75" cy="1099.6" r="2.9"/><circle cx="1240.75" cy="1101.2" r="2.9"/><circle cx="1240.75" cy="1444.5" r="2.9"/><circle cx="1240.75" cy="1446.1" r="2.9"/><circle cx="1240.75" cy="1447.7" r="2.9"/><circle cx="1240.75" cy="1449.3" r="2.9"/><circle cx="1240.75" cy="1450.9" r="2.9"/><circle cx="1240.75" cy="1452.5" r="2.9"/><circle cx="1240.75" cy="1454.1" r="2.9"/><circle cx="1240.75" cy="1455.7" r="2.9"/><circle cx="1240.75" cy="1457.3" r="2.9"/><circle cx="1240.75" cy="1458.9" r="2.9"/><circle cx="1240.75" cy="1460.5" r="2.9"/><circle cx="1240.75" cy="1462.1" r="2.9"/><circle cx="1240.75" cy="1463.7" r="2.9"/><circle cx="1240.75" cy="1465.3" r="2.9"/><circle cx="1240.75" cy="1466.9" r="2.9"/><circle cx="1240.75" cy="1468.5" r="2.9"/><circle cx="1240.75" cy="1470.1" r="2.9"/><circle cx="1240.75" cy="1471.7" r="2.9"/><circle cx="1240.75" cy="1473.3" r="2.9"/><circle cx="1240.75" cy="1474.9" r="2.9"/><circle cx="1240.75" cy="1476.5" r="2.9"/><circle cx="1240.75" cy="1478.1" r="2.9"/><circle cx="1240.75" cy="1479.7" r="2.9"/><circle cx="1240.75" cy="1481.3" r="2.9"/><circle cx="1240.75" cy="1482.9" r="2.9"/><circle cx="1240.75" cy="1484.5" r="2.9"/><circle cx="1240.75" cy="1486.1" r="2.9"/><circle cx="1240.75" cy="1487.7" r="2.9"/><circle cx="1240.75" cy="1489.3" r="2.9"/><circle cx="1240.75" cy="1490.9" r="2.9"/><circle cx="1240.75" cy="1492.5" r="2.9"/><circle cx="1240.75" cy="1494.1" r="2.9"/><circle cx="1240.75" cy="1495.7" r="2.9"/><circle cx="1240.75" cy="1497.3" r="2.9"/><circle cx="1240.75" cy="1498.9" r="2.9"/><circle cx="1240.75" cy="1500.5" r="2.9"/><circle cx="1240.75" cy="1504" r="2.9"/><circle cx="1240.75" cy="1511.8" r="2.9"/><circle cx="1240.75" cy="1515" r="2.9"/><circle cx="1240.75" cy="1518.2" r="2.9"/><circle cx="1240.75" cy="1531.5" r="2.9"/><circle cx="1240.75" cy="1540" r="2.9"/><circle cx="1494.05" cy="1036.75" r="2.9"/></g>
<path d="M1240.75 1100.2V1230.3M1240.75 1315.7V1444.7" stroke="#333333" stroke-width="1.4" fill="none"/>
<rect x="1221.45" y="1230.3" width="38.6" height="85.4" fill="#9e9e9e" stroke="#333333" stroke-width="1.4"/>
<line x1="1221.45" y1="1272.6" x2="1260.05" y2="1272.6" stroke="#333333" stroke-width="2.6"/>
<path d="M1494.05 1077.2V1183.6M1494.05 1278.9V1415.27" stroke="#333333" stroke-width="1.4" fill="none"/>
<rect x="1474.85" y="1183.6" width="38.4" height="95.3" fill="#ee6a50" stroke="#333333" stroke-width="1.4"/>
<line x1="1474.85" y1="1230.5" x2="1513.25" y2="1230.5" stroke="#333333" stroke-width="2.6"/>
<text x="1082.5" y="1120.5" font-size="20.8" fill="#4d4d4d" text-anchor="end">2.5</text>
<text x="1082.5" y="1280.15" font-size="20.8" fill="#4d4d4d" text-anchor="end">0.0</text>
<text x="1082.5" y="1439.8" font-size="20.8" fill="#4d4d4d" text-anchor="end">−2.5</text>
<text x="1240.45" y="1587.8" font-size="20.8" fill="#4d4d4d" text-anchor="middle">CTL</text>
<text x="1494.15" y="1587.8" font-size="20.8" fill="#4d4d4d" text-anchor="middle">SCZ</text>
<text transform="translate(1033.0 1277.5) rotate(-90)" font-size="25.8" fill="#000" text-anchor="middle">SCZ PRS</text>
<text x="1089" y="976.9" font-size="23.15" fill="#000">p−value 3.04x10−19; OR 1.94; 95% CI 1.68 − 2.25</text>
</g>
<text x="440.4" y="77.1" font-size="37.3" text-anchor="middle" fill="#000">Testing set (Schizophrenia spectrum disorder)</text>
<text x="948.1" y="77.1" font-size="37.3" fill="#000">Validation set (Schizophrenia spectrum disorder)</text>
<text x="448.6" y="918.9" font-size="37.3" text-anchor="middle" fill="#000">Testing set (Schizophrenia)</text>
<text x="1349.6" y="918.9" font-size="37.3" text-anchor="middle" fill="#000">Validation set (Schizophrenia)</text>
<text transform="translate(-1.2 40.8) scale(0.92 1)" font-size="58.7" font-weight="bold" fill="#000">a</text>
<text x="883.2" y="40.8" font-size="58.7" font-weight="bold" fill="#000">b</text>
<text x="-1.3" y="880.2" font-size="58.7" font-weight="bold" fill="#000">c</text>
<text x="883.2" y="880.2" font-size="58.7" font-weight="bold" fill="#000">d</text>
</svg></body></html>
